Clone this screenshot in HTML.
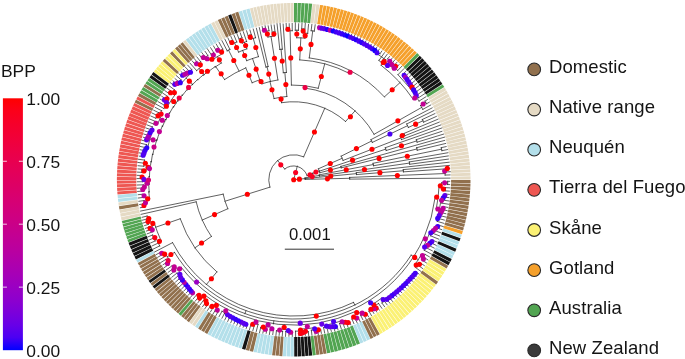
<!DOCTYPE html>
<html><head><meta charset="utf-8"><title>Phylogeny</title>
<style>
html,body{margin:0;padding:0;background:#fff}
body{width:685px;height:359px;overflow:hidden;position:relative;font-family:"Liberation Sans",sans-serif;color:#111}
svg{position:absolute;left:0;top:0}
text{font-family:"Liberation Sans",sans-serif;fill:#141414}
</style></head><body>
<svg width="685" height="359" viewBox="0 0 685 359">
<defs><linearGradient id="bpp" x1="0" y1="0" x2="0" y2="1"><stop offset="0.0" stop-color="#ff0000"/><stop offset="0.05" stop-color="#fb001a"/><stop offset="0.1" stop-color="#f6002a"/><stop offset="0.15" stop-color="#f20037"/><stop offset="0.2" stop-color="#ed0044"/><stop offset="0.25" stop-color="#e80050"/><stop offset="0.3" stop-color="#e3005b"/><stop offset="0.35" stop-color="#dd0066"/><stop offset="0.4" stop-color="#d70072"/><stop offset="0.45" stop-color="#d1007d"/><stop offset="0.5" stop-color="#ca0088"/><stop offset="0.55" stop-color="#c20094"/><stop offset="0.6" stop-color="#ba009f"/><stop offset="0.65" stop-color="#b000ab"/><stop offset="0.7" stop-color="#a600b7"/><stop offset="0.75" stop-color="#9a00c3"/><stop offset="0.8" stop-color="#8d00ce"/><stop offset="0.85" stop-color="#7c00da"/><stop offset="0.9" stop-color="#6800e7"/><stop offset="0.95" stop-color="#4b00f3"/><stop offset="1.0" stop-color="#0000ff"/></linearGradient></defs>
<rect width="685" height="359" fill="#fff"/>
<text x="1" y="76.6" font-size="17.4">BPP</text>
<rect x="2.9" y="98.3" width="20" height="251.9" fill="url(#bpp)"/>
<text x="26.3" y="104.8" font-size="17.4">1.00</text>
<path d="M2.9 161.25 h4 M18.9 161.25 h4" stroke="#fff" stroke-width="0.8"/>
<text x="26.3" y="167.75" font-size="17.4">0.75</text>
<path d="M2.9 224.2 h4 M18.9 224.2 h4" stroke="#fff" stroke-width="0.8"/>
<text x="26.3" y="230.7" font-size="17.4">0.50</text>
<path d="M2.9 287.15 h4 M18.9 287.15 h4" stroke="#fff" stroke-width="0.8"/>
<text x="26.3" y="293.65" font-size="17.4">0.25</text>
<text x="26.3" y="356.6" font-size="17.4">0.00</text>
<circle cx="534.2" cy="69.4" r="6.35" fill="#91704d" stroke="#2a2a2a" stroke-width="1.1"/>
<text x="549" y="72.9" font-size="18.5" letter-spacing="0.1">Domestic</text>
<circle cx="534.2" cy="109.55" r="6.35" fill="#e5dac4" stroke="#2a2a2a" stroke-width="1.1"/>
<text x="549" y="113.05" font-size="18.5" letter-spacing="0.1">Native range</text>
<circle cx="534.2" cy="149.7" r="6.35" fill="#b3dfea" stroke="#2a2a2a" stroke-width="1.1"/>
<text x="549" y="153.2" font-size="18.5" letter-spacing="0.1">Neuquén</text>
<circle cx="534.2" cy="189.85" r="6.35" fill="#ee5752" stroke="#2a2a2a" stroke-width="1.1"/>
<text x="549" y="193.35" font-size="18.5" letter-spacing="0.1">Tierra del Fuego</text>
<circle cx="534.2" cy="230" r="6.35" fill="#fbf174" stroke="#2a2a2a" stroke-width="1.1"/>
<text x="549" y="233.5" font-size="18.5" letter-spacing="0.1">Skåne</text>
<circle cx="534.2" cy="270.15" r="6.35" fill="#f5a02b" stroke="#2a2a2a" stroke-width="1.1"/>
<text x="549" y="273.65" font-size="18.5" letter-spacing="0.1">Gotland</text>
<circle cx="534.2" cy="310.3" r="6.35" fill="#52a552" stroke="#2a2a2a" stroke-width="1.1"/>
<text x="549" y="313.8" font-size="18.5" letter-spacing="0.1">Australia</text>
<circle cx="534.2" cy="350.45" r="6.35" fill="#3a3a3a" stroke="#2a2a2a" stroke-width="1.1"/>
<text x="549" y="353.95" font-size="18.5" letter-spacing="0.1">New Zealand</text>
<path d="M284.8 249.2H334" stroke="#333" stroke-width="1"/>
<text x="309.8" y="240.2" font-size="16.7" text-anchor="middle">0.001</text>
<g><path fill="#e5dac4" d="M451.1 179.48L470.5 179.45L470.47 176.35L451.07 176.71z"/>
<path fill="#e5dac4" d="M451.06 176.28L470.46 175.85L470.36 172.75L450.98 173.51z"/>
<path fill="#e5dac4" d="M450.96 173.07L470.34 172.26L470.19 169.15L450.82 170.31z"/>
<path fill="#e5dac4" d="M450.79 169.87L470.15 168.66L469.93 165.56L450.6 167.11z"/>
<path fill="#e5dac4" d="M450.56 166.68L469.89 165.07L469.61 161.98L450.31 163.92z"/>
<path fill="#e5dac4" d="M450.26 163.48L469.56 161.49L469.21 158.4L449.95 160.74z"/>
<path fill="#e5dac4" d="M449.9 160.3L469.15 157.91L468.74 154.83L449.53 157.56z"/>
<path fill="#e5dac4" d="M449.47 157.12L468.67 154.34L468.2 151.27L449.05 154.39z"/>
<path fill="#e5dac4" d="M448.98 153.96L468.12 150.78L467.58 147.72L448.5 151.23z"/>
<path fill="#e5dac4" d="M448.42 150.8L467.49 147.24L466.9 144.19L447.89 148.09z"/>
<path fill="#e5dac4" d="M447.8 147.66L466.8 143.71L466.14 140.67L447.22 144.95z"/>
<path fill="#e5dac4" d="M447.12 144.52L466.03 140.19L465.31 137.17L446.48 141.83z"/>
<path fill="#e5dac4" d="M446.37 141.41L465.19 136.69L464.41 133.68L445.67 138.73z"/>
<path fill="#e5dac4" d="M445.56 138.31L464.28 133.21L463.43 130.22L444.81 135.65z"/>
<path fill="#e5dac4" d="M444.69 135.22L463.3 129.74L462.39 126.77L443.88 132.58z"/>
<path fill="#e5dac4" d="M443.75 132.16L462.24 126.3L461.28 123.35L442.89 129.53z"/>
<path fill="#e5dac4" d="M442.75 129.11L461.12 122.88L460.1 119.95L441.84 126.5z"/>
<path fill="#e5dac4" d="M441.69 126.09L459.93 119.48L458.85 116.57L440.72 123.5z"/>
<path fill="#e5dac4" d="M440.57 123.09L458.67 116.11L457.53 113.22L439.55 120.52z"/>
<path fill="#e5dac4" d="M439.38 120.11L457.34 112.76L456.14 109.9L438.31 117.56z"/>
<path fill="#e5dac4" d="M438.14 117.16L455.94 109.45L454.68 106.61L437.02 114.63z"/>
<path fill="#e5dac4" d="M436.84 114.23L454.48 106.16L453.16 103.34L435.66 111.72z"/>
<path fill="#e5dac4" d="M435.47 111.33L452.95 102.9L451.57 100.11L434.25 108.85z"/>
<path fill="#e5dac4" d="M434.05 108.45L451.35 99.67L449.92 96.92L432.78 106z"/>
<path fill="#e5dac4" d="M432.57 105.61L449.69 96.48L448.2 93.75L431.25 103.18z"/>
<path fill="#e5dac4" d="M431.04 102.8L447.96 93.32L446.42 90.62L429.66 100.4z"/>
<path fill="#e5dac4" d="M429.44 100.02L446.17 90.2L444.58 87.53L428.02 97.65z"/>
<path fill="#52a552" d="M427.79 97.27L444.32 87.11L442.63 84.41L426.28 94.87z"/>
<path fill="#141414" d="M426.05 94.5L442.36 84L440.61 81.34L424.49 92.13z"/>
<path fill="#141414" d="M424.25 91.77L440.34 80.93L438.53 78.3L422.64 89.43z"/>
<path fill="#141414" d="M422.39 89.07L438.25 77.9L436.39 75.31L420.74 86.77z"/>
<path fill="#141414" d="M420.48 86.41L436.1 74.92L434.19 72.37L418.78 84.15z"/>
<path fill="#141414" d="M418.51 83.8L433.89 71.98L431.93 69.47L416.76 81.57z"/>
<path fill="#141414" d="M416.49 81.22L431.62 69.08L429.61 66.62L414.7 79.03z"/>
<path fill="#141414" d="M414.41 78.69L429.29 66.24L427.23 63.82L412.58 76.53z"/>
<path fill="#141414" d="M412.29 76.2L426.9 63.45L424.79 61.07L410.4 74.08z"/>
<path fill="#141414" d="M410.11 73.76L424.46 60.7L422.29 58.36L408.18 71.68z"/>
<path fill="#141414" d="M407.88 71.36L421.95 58.01L419.74 55.72L405.91 69.32z"/>
<path fill="#52a552" d="M405.6 69.01L419.39 55.37L417.14 53.12L403.59 67.01z"/>
<path fill="#f5a02b" d="M403.28 66.71L416.78 52.78L414.57 50.67L401.3 64.83z"/>
<path fill="#f5a02b" d="M400.98 64.53L414.21 50.33L411.95 48.26L398.97 62.69z"/>
<path fill="#f5a02b" d="M398.65 62.39L411.58 47.93L409.28 45.91L396.6 60.59z"/>
<path fill="#f5a02b" d="M396.27 60.31L408.91 45.59L406.57 43.62L394.19 58.55z"/>
<path fill="#f5a02b" d="M393.85 58.27L406.19 43.3L403.81 41.38L391.73 56.55z"/>
<path fill="#f5a02b" d="M391.39 56.28L403.43 41.07L401.01 39.19L389.24 54.61z"/>
<path fill="#f5a02b" d="M388.89 54.34L400.62 38.89L398.17 37.06L386.7 52.71z"/>
<path fill="#f5a02b" d="M386.35 52.46L397.77 36.77L395.28 34.99L384.13 50.87z"/>
<path fill="#f5a02b" d="M383.77 50.62L394.87 34.71L392.35 32.98L381.52 49.08z"/>
<path fill="#f5a02b" d="M381.16 48.84L391.94 32.71L389.38 31.03L378.88 47.34z"/>
<path fill="#f5a02b" d="M378.51 47.1L388.96 30.76L386.37 29.13L376.2 45.66z"/>
<path fill="#f5a02b" d="M375.83 45.43L385.95 28.88L383.33 27.3L373.49 44.02z"/>
<path fill="#f5a02b" d="M373.11 43.8L382.9 27.05L380.25 25.53L370.75 42.45z"/>
<path fill="#f5a02b" d="M370.37 42.23L379.82 25.29L377.13 23.82L367.98 40.93z"/>
<path fill="#f5a02b" d="M367.59 40.72L376.7 23.59L373.98 22.18L365.17 39.46z"/>
<path fill="#f5a02b" d="M364.78 39.26L373.54 21.95L370.8 20.6L362.34 38.05z"/>
<path fill="#f5a02b" d="M361.94 37.86L370.35 20.38L367.59 19.08L359.48 36.7z"/>
<path fill="#f5a02b" d="M359.08 36.52L367.14 18.87L364.34 17.63L356.59 35.41z"/>
<path fill="#f5a02b" d="M356.19 35.24L363.89 17.43L361.07 16.24L353.68 34.18z"/>
<path fill="#f5a02b" d="M353.27 34.01L360.61 16.05L357.77 14.92L350.74 33z"/>
<path fill="#f5a02b" d="M350.33 32.84L357.31 14.74L354.45 13.66L347.78 31.88z"/>
<path fill="#f5a02b" d="M347.37 31.73L353.98 13.5L351.1 12.48L344.8 30.83z"/>
<path fill="#f5a02b" d="M344.38 30.68L350.63 12.32L347.73 11.36L341.8 29.83z"/>
<path fill="#f5a02b" d="M341.38 29.7L347.26 11.21L344.33 10.31L338.78 28.89z"/>
<path fill="#f5a02b" d="M338.35 28.77L343.86 10.16L340.92 9.32L335.74 28.02z"/>
<path fill="#f5a02b" d="M335.31 27.9L340.44 9.19L337.48 8.41L332.68 27.2z"/>
<path fill="#f5a02b" d="M332.25 27.09L337 8.29L334.03 7.56L329.61 26.45z"/>
<path fill="#f5a02b" d="M329.18 26.35L333.55 7.45L330.56 6.79L326.52 25.76z"/>
<path fill="#f5a02b" d="M326.09 25.67L330.08 6.68L327.08 6.08L323.42 25.13z"/>
<path fill="#f5a02b" d="M322.99 25.05L326.6 5.99L323.59 5.44L320.31 24.56z"/>
<path fill="#f5a02b" d="M319.87 24.49L323.1 5.36L320.08 4.88L317.18 24.06z"/>
<path fill="#e5dac4" d="M316.75 24L319.59 4.81L316.37 4.36L313.88 23.6z"/>
<path fill="#e5dac4" d="M313.44 23.54L315.88 4.3L312.65 3.92L310.57 23.21z"/>
<path fill="#52a552" d="M310.13 23.16L312.15 3.87L308.92 3.56L307.25 22.88z"/>
<path fill="#52a552" d="M306.81 22.85L308.42 3.51L305.18 3.27L303.92 22.63z"/>
<path fill="#52a552" d="M303.48 22.6L304.69 3.24L301.44 3.07L300.59 22.45z"/>
<path fill="#52a552" d="M300.15 22.43L300.95 3.05L297.69 2.95L297.26 22.34z"/>
<path fill="#52a552" d="M296.82 22.33L297.2 2.93L293.95 2.9L293.92 22.3z"/>
<path fill="#e5dac4" d="M293.48 22.3L293.45 2.9L290.53 2.93L290.88 22.33z"/>
<path fill="#e5dac4" d="M290.44 22.33L290.04 2.94L287.11 3.02L287.84 22.41z"/>
<path fill="#e5dac4" d="M287.4 22.43L286.62 3.04L283.7 3.18L284.8 22.55z"/>
<path fill="#e5dac4" d="M284.36 22.58L283.21 3.21L280.29 3.41L281.76 22.75z"/>
<path fill="#e5dac4" d="M281.32 22.79L279.8 3.45L276.88 3.7L278.73 23.01z"/>
<path fill="#e5dac4" d="M278.29 23.06L276.39 3.75L273.48 4.06L275.7 23.33z"/>
<path fill="#e5dac4" d="M275.26 23.38L272.99 4.12L270.09 4.48L272.68 23.71z"/>
<path fill="#e5dac4" d="M272.25 23.77L269.6 4.55L266.71 4.97L269.67 24.15z"/>
<path fill="#e5dac4" d="M269.24 24.21L266.22 5.05L263.34 5.53L266.67 24.64z"/>
<path fill="#e5dac4" d="M266.23 24.71L262.85 5.61L259.97 6.15L263.67 25.19z"/>
<path fill="#e5dac4" d="M263.24 25.27L259.49 6.24L256.63 6.83L260.69 25.8z"/>
<path fill="#e5dac4" d="M260.26 25.89L256.14 6.94L253.29 7.58L257.72 26.47z"/>
<path fill="#e5dac4" d="M257.3 26.57L252.81 7.69L249.97 8.39L254.77 27.19z"/>
<path fill="#b3dfea" d="M254.34 27.3L249.49 8.52L246.19 9.4L251.41 28.09z"/>
<path fill="#b3dfea" d="M250.98 28.21L245.72 9.54L242.44 10.49L248.07 29.06z"/>
<path fill="#b3dfea" d="M247.65 29.19L241.97 10.64L238.71 11.67L244.75 30.11z"/>
<path fill="#91704d" d="M244.33 30.24L238.24 11.82L235.16 12.87L241.58 31.18z"/>
<path fill="#91704d" d="M241.17 31.33L234.69 13.04L231.63 14.15L238.44 32.32z"/>
<path fill="#141414" d="M238.03 32.47L231.17 14.33L228.13 15.51L235.32 33.53z"/>
<path fill="#91704d" d="M234.92 33.69L227.67 15.69L224.66 16.94L232.23 34.8z"/>
<path fill="#91704d" d="M231.83 34.97L224.2 17.13L221.22 18.44L229.17 36.14z"/>
<path fill="#91704d" d="M228.77 36.32L220.77 18.64L217.81 20.02L226.14 37.54z"/>
<path fill="#e5dac4" d="M225.74 37.73L217.36 20.23L214.48 21.64L223.17 38.98z"/>
<path fill="#e5dac4" d="M222.78 39.18L214.04 21.86L211.19 23.33L220.24 40.49z"/>
<path fill="#b3dfea" d="M219.85 40.7L210.75 23.57L207.86 25.13L217.28 42.09z"/>
<path fill="#b3dfea" d="M216.9 42.31L207.43 25.37L204.58 27L214.36 43.76z"/>
<path fill="#b3dfea" d="M213.98 43.98L204.15 27.25L201.34 28.95L211.47 45.49z"/>
<path fill="#b3dfea" d="M211.1 45.72L200.91 29.2L198.13 30.95L208.62 47.28z"/>
<path fill="#b3dfea" d="M208.25 47.51L197.72 31.22L194.98 33.03L205.81 49.13z"/>
<path fill="#b3dfea" d="M205.44 49.37L194.57 33.31L191.86 35.18L203.04 51.03z"/>
<path fill="#b3dfea" d="M202.68 51.29L191.46 35.46L188.8 37.39L200.31 53z"/>
<path fill="#b3dfea" d="M199.95 53.26L188.4 37.68L185.78 39.66L197.62 55.03z"/>
<path fill="#e5dac4" d="M197.27 55.3L185.39 39.96L183.03 41.82L195.18 56.95z"/>
<path fill="#91704d" d="M194.84 57.22L182.65 42.13L180.34 44.03L192.77 58.92z"/>
<path fill="#91704d" d="M192.44 59.2L179.96 44.35L177.68 46.29L190.41 60.93z"/>
<path fill="#91704d" d="M190.08 61.22L177.31 46.62L175.07 48.61L188.09 62.99z"/>
<path fill="#fbf174" d="M187.76 63.29L174.7 48.94L172.51 50.97L185.8 65.1z"/>
<path fill="#91704d" d="M185.48 65.4L172.15 51.31L169.99 53.39L183.56 67.25z"/>
<path fill="#fbf174" d="M183.25 67.56L169.64 53.74L167.52 55.86L181.37 69.45z"/>
<path fill="#fbf174" d="M181.06 69.76L167.18 56.21L165.1 58.37L179.21 71.68z"/>
<path fill="#91704d" d="M178.91 72L164.76 58.73L162.73 60.93L177.1 73.96z"/>
<path fill="#fbf174" d="M176.81 74.29L162.4 61.3L160.41 63.54L175.04 76.29z"/>
<path fill="#fbf174" d="M174.75 76.62L160.09 63.91L158.15 66.19L173.02 78.65z"/>
<path fill="#fbf174" d="M172.74 78.99L157.83 66.57L155.93 68.89L171.05 81.05z"/>
<path fill="#fbf174" d="M170.78 81.39L155.62 69.28L153.77 71.63L169.13 83.49z"/>
<path fill="#141414" d="M168.86 83.84L153.47 72.02L151.58 74.54L167.17 86.08z"/>
<path fill="#141414" d="M166.91 86.43L151.28 74.93L149.44 77.49L165.27 88.7z"/>
<path fill="#52a552" d="M165.02 89.06L149.16 77.89L147.37 80.48L163.42 91.37z"/>
<path fill="#52a552" d="M163.18 91.73L147.09 80.89L145.35 83.52L161.63 94.07z"/>
<path fill="#91704d" d="M161.39 94.44L145.08 83.93L143.4 86.59L159.89 96.81z"/>
<path fill="#52a552" d="M159.66 97.18L143.14 87.01L141.52 89.71L158.21 99.58z"/>
<path fill="#52a552" d="M157.99 99.96L141.26 90.14L139.69 92.86L156.59 102.39z"/>
<path fill="#91704d" d="M156.38 102.78L139.45 93.3L137.94 96.06L155.03 105.23z"/>
<path fill="#ee5752" d="M154.82 105.62L137.7 96.49L136.25 99.28L153.52 108.11z"/>
<path fill="#91704d" d="M153.32 108.5L136.02 99.72L134.62 102.54L152.08 111.01z"/>
<path fill="#ee5752" d="M151.89 111.41L134.41 102.99L133.07 105.84L150.69 113.94z"/>
<path fill="#ee5752" d="M150.51 114.34L132.86 106.29L131.58 109.16L149.37 116.9z"/>
<path fill="#ee5752" d="M149.19 117.31L131.38 109.62L130.16 112.52L148.11 119.89z"/>
<path fill="#ee5752" d="M147.94 120.3L129.97 112.98L128.81 115.9L146.9 122.9z"/>
<path fill="#ee5752" d="M146.75 123.31L128.63 116.36L127.53 119.31L145.77 125.94z"/>
<path fill="#ee5752" d="M145.62 126.35L127.36 119.78L126.32 122.75L144.69 129z"/>
<path fill="#ee5752" d="M144.55 129.41L126.17 123.22L125.19 126.21L143.68 132.08z"/>
<path fill="#ee5752" d="M143.54 132.5L125.04 126.68L124.12 129.69L142.73 135.18z"/>
<path fill="#ee5752" d="M142.6 135.6L123.98 130.17L123.13 133.2L141.84 138.3z"/>
<path fill="#ee5752" d="M141.73 138.72L123 133.67L122.2 136.72L141.02 141.44z"/>
<path fill="#ee5752" d="M140.92 141.86L122.08 137.2L121.35 140.26L140.27 144.59z"/>
<path fill="#ee5752" d="M140.17 145.02L121.24 140.75L120.58 143.82L139.57 147.76z"/>
<path fill="#ee5752" d="M139.49 148.19L120.48 144.31L119.88 147.4L138.95 150.94z"/>
<path fill="#ee5752" d="M138.87 151.37L119.79 147.88L119.25 150.99L138.39 154.14z"/>
<path fill="#ee5752" d="M138.32 154.57L119.17 151.47L118.69 154.59L137.9 157.34z"/>
<path fill="#ee5752" d="M137.83 157.78L118.62 155.08L118.21 158.2L137.47 160.56z"/>
<path fill="#ee5752" d="M137.42 160.99L118.15 158.69L117.81 161.82L137.11 163.78z"/>
<path fill="#ee5752" d="M137.06 164.22L117.76 162.31L117.48 165.45L136.81 167.01z"/>
<path fill="#ee5752" d="M136.78 167.45L117.44 165.94L117.22 169.08L136.58 170.24z"/>
<path fill="#ee5752" d="M136.56 170.68L117.19 169.57L117.04 172.72L136.42 173.48z"/>
<path fill="#ee5752" d="M136.41 173.92L117.02 173.21L116.93 176.36L136.33 176.73z"/>
<path fill="#ee5752" d="M136.32 177.17L116.92 176.85L116.9 180L136.3 179.97z"/>
<path fill="#ee5752" d="M136.3 180.41L116.9 180.5L116.94 183.64L136.34 183.21z"/>
<path fill="#ee5752" d="M136.35 183.65L116.96 184.14L117.06 187.29L136.44 186.45z"/>
<path fill="#ee5752" d="M136.46 186.89L117.08 187.78L117.26 190.92L136.62 189.69z"/>
<path fill="#ee5752" d="M136.65 190.13L117.29 191.42L117.53 194.56L136.86 192.93z"/>
<path fill="#b3dfea" d="M136.89 193.36L117.57 195.05L117.88 198.29L137.17 196.25z"/>
<path fill="#b3dfea" d="M137.22 196.68L117.93 198.78L118.31 202.01L137.56 199.56z"/>
<path fill="#e5dac4" d="M137.61 200L118.38 202.5L118.83 205.72L138.01 202.86z"/>
<path fill="#91704d" d="M138.08 203.3L118.9 206.21L119.42 209.42L138.54 206.16z"/>
<path fill="#e5dac4" d="M138.61 206.59L119.5 209.91L120.08 213.11L139.14 209.44z"/>
<path fill="#e5dac4" d="M139.22 209.87L120.18 213.59L120.83 216.78L139.8 212.71z"/>
<path fill="#e5dac4" d="M139.89 213.14L120.94 217.26L121.66 220.43L140.53 215.96z"/>
<path fill="#52a552" d="M140.64 216.39L121.77 220.91L122.44 223.6L141.23 218.78z"/>
<path fill="#52a552" d="M141.34 219.21L122.56 224.08L123.28 226.75L141.98 221.59z"/>
<path fill="#52a552" d="M142.09 222.01L123.41 227.23L124.17 229.89L142.78 224.38z"/>
<path fill="#52a552" d="M142.9 224.8L124.31 230.36L125.13 233.01L143.63 227.16z"/>
<path fill="#52a552" d="M143.76 227.58L125.28 233.48L126.14 236.11L144.53 229.92z"/>
<path fill="#52a552" d="M144.67 230.34L126.3 236.58L127.21 239.19L145.48 232.66z"/>
<path fill="#52a552" d="M145.63 233.08L127.38 239.66L128.34 242.25L146.48 235.39z"/>
<path fill="#141414" d="M146.64 235.8L128.51 242.71L129.7 245.76L147.7 238.51z"/>
<path fill="#141414" d="M147.86 238.92L129.89 246.22L131.15 249.24L148.98 241.61z"/>
<path fill="#141414" d="M149.16 242.01L131.34 249.69L132.67 252.68L150.34 244.67z"/>
<path fill="#141414" d="M150.52 245.07L132.87 253.13L134.26 256.09L151.75 247.71z"/>
<path fill="#141414" d="M151.94 248.11L134.47 256.54L135.92 259.47L153.23 250.72z"/>
<path fill="#b3dfea" d="M153.43 251.11L136.14 259.91L137.51 262.54L154.65 253.45z"/>
<path fill="#91704d" d="M154.85 253.84L137.74 262.97L139.15 265.57L156.11 256.15z"/>
<path fill="#91704d" d="M156.33 256.53L139.4 266L140.86 268.57L157.63 258.82z"/>
<path fill="#91704d" d="M157.85 259.2L141.11 269L142.63 271.54L159.2 261.47z"/>
<path fill="#91704d" d="M159.43 261.84L142.88 271.96L144.45 274.48L160.83 264.08z"/>
<path fill="#91704d" d="M161.06 264.45L144.71 274.89L146.33 277.37L162.5 266.66z"/>
<path fill="#91704d" d="M162.74 267.02L146.6 277.78L148.27 280.23L164.22 269.2z"/>
<path fill="#141414" d="M164.47 269.56L148.55 280.64L150.26 283.06L166 271.71z"/>
<path fill="#91704d" d="M166.25 272.07L150.55 283.46L152.3 285.84L167.82 274.19z"/>
<path fill="#141414" d="M168.08 274.54L152.6 286.23L154.4 288.58L169.69 276.63z"/>
<path fill="#91704d" d="M169.96 276.98L154.71 288.97L156.56 291.28L171.6 279.04z"/>
<path fill="#91704d" d="M171.88 279.38L156.87 291.66L158.76 293.94L173.57 281.4z"/>
<path fill="#91704d" d="M173.85 281.74L159.08 294.31L161.02 296.55L175.58 283.73z"/>
<path fill="#91704d" d="M175.87 284.06L161.35 296.92L163.33 299.12L177.63 286.02z"/>
<path fill="#91704d" d="M177.93 286.34L163.66 299.48L165.68 301.64L179.73 288.26z"/>
<path fill="#91704d" d="M180.03 288.58L166.03 302L168.09 304.12L181.87 290.47z"/>
<path fill="#91704d" d="M182.18 290.78L168.44 304.47L170.55 306.55L184.06 292.63z"/>
<path fill="#91704d" d="M184.37 292.94L170.9 306.89L173.05 308.93L186.29 294.75z"/>
<path fill="#91704d" d="M186.61 295.05L173.41 309.27L175.59 311.26L188.55 296.83z"/>
<path fill="#91704d" d="M188.88 297.12L175.96 311.59L178.19 313.55L190.86 298.86z"/>
<path fill="#52a552" d="M191.19 299.15L178.56 313.87L180.82 315.78L193.21 300.85z"/>
<path fill="#91704d" d="M193.55 301.13L181.2 316.09L183.5 317.96L195.59 302.79z"/>
<path fill="#91704d" d="M195.94 303.06L183.89 318.26L186.22 320.08L198.02 304.68z"/>
<path fill="#91704d" d="M198.37 304.94L186.62 320.38L188.99 322.15L200.48 306.52z"/>
<path fill="#e5dac4" d="M200.83 306.78L189.38 322.45L191.79 324.17L202.97 308.32z"/>
<path fill="#e5dac4" d="M203.33 308.57L192.19 324.46L194.63 326.14L205.5 310.07z"/>
<path fill="#b3dfea" d="M205.87 310.31L195.04 326.41L197.72 328.18L208.25 311.89z"/>
<path fill="#91704d" d="M208.62 312.12L198.13 328.45L200.85 330.16L211.04 313.65z"/>
<path fill="#91704d" d="M211.41 313.88L201.27 330.41L204.02 332.07L213.86 315.35z"/>
<path fill="#91704d" d="M214.24 315.57L204.45 332.32L207.23 333.91L216.72 316.99z"/>
<path fill="#b3dfea" d="M217.1 317.21L207.66 334.15L210.51 335.7L219.64 318.59z"/>
<path fill="#b3dfea" d="M220.02 318.79L210.94 335.94L213.82 337.43L222.58 320.12z"/>
<path fill="#b3dfea" d="M222.98 320.32L214.26 337.65L217.17 339.08L225.57 321.59z"/>
<path fill="#b3dfea" d="M225.96 321.78L217.61 339.29L220.55 340.66L228.58 323z"/>
<path fill="#b3dfea" d="M228.98 323.18L221 340.86L223.97 342.17L231.62 324.34z"/>
<path fill="#b3dfea" d="M232.02 324.51L224.42 342.36L227.41 343.6L234.69 325.62z"/>
<path fill="#b3dfea" d="M235.09 325.78L227.87 343.79L230.89 344.97L237.78 326.83z"/>
<path fill="#b3dfea" d="M238.19 326.99L231.35 345.14L234.39 346.26L240.9 327.98z"/>
<path fill="#b3dfea" d="M241.31 328.13L234.86 346.42L237.92 347.47L244.04 329.06z"/>
<path fill="#b3dfea" d="M244.46 329.2L238.39 347.63L241.48 348.61L247.21 330.08z"/>
<path fill="#141414" d="M247.63 330.21L241.95 348.76L245.32 349.75L250.63 331.09z"/>
<path fill="#91704d" d="M251.05 331.21L245.8 349.89L249.19 350.81L254.08 332.03z"/>
<path fill="#91704d" d="M254.5 332.14L249.67 350.93L253.09 351.77L257.54 332.89z"/>
<path fill="#b3dfea" d="M257.97 332.99L253.57 351.88L256.76 352.6L260.81 333.63z"/>
<path fill="#b3dfea" d="M261.24 333.72L257.24 352.7L260.45 353.35L264.1 334.29z"/>
<path fill="#b3dfea" d="M264.53 334.37L260.93 353.44L264.15 354.01L267.4 334.89z"/>
<path fill="#b3dfea" d="M267.83 334.96L264.64 354.1L267.87 354.6L270.71 335.41z"/>
<path fill="#b3dfea" d="M271.14 335.48L268.36 354.67L271.6 355.11L274.03 335.87z"/>
<path fill="#91704d" d="M274.46 335.92L272.09 355.17L275.18 355.53L277.21 336.23z"/>
<path fill="#91704d" d="M277.65 336.28L275.67 355.58L278.76 355.87L280.4 336.54z"/>
<path fill="#91704d" d="M280.84 336.57L279.25 355.91L282.35 356.14L283.6 336.78z"/>
<path fill="#b3dfea" d="M284.04 336.8L282.85 356.17L286.15 356.34L286.98 336.96z"/>
<path fill="#b3dfea" d="M287.42 336.97L286.65 356.36L289.96 356.46L290.37 337.06z"/>
<path fill="#b3dfea" d="M290.81 337.07L290.45 356.47L293.76 356.5L293.75 337.1z"/>
<path fill="#141414" d="M294.19 337.1L294.26 356.5L297.46 356.46L297.05 337.06z"/>
<path fill="#141414" d="M297.49 337.05L297.96 356.45L301.17 356.34L300.35 336.96z"/>
<path fill="#141414" d="M300.79 336.94L301.66 356.32L304.86 356.15L303.64 336.79z"/>
<path fill="#141414" d="M304.08 336.76L305.36 356.12L308.56 355.87L306.93 336.54z"/>
<path fill="#141414" d="M307.36 336.51L309.05 355.83L312.24 355.53L310.21 336.23z"/>
<path fill="#52a552" d="M310.64 336.19L312.73 355.47L315.84 355.11L313.41 335.86z"/>
<path fill="#91704d" d="M313.85 335.8L316.33 355.05L319.44 354.62L316.61 335.42z"/>
<path fill="#91704d" d="M317.05 335.36L319.92 354.54L323.02 354.05L319.8 334.92z"/>
<path fill="#91704d" d="M320.23 334.85L323.5 353.97L326.59 353.41L322.98 334.35z"/>
<path fill="#52a552" d="M323.41 334.27L327.07 353.32L330.39 352.65L326.36 333.67z"/>
<path fill="#52a552" d="M326.79 333.58L330.87 352.55L334.17 351.81L329.73 332.92z"/>
<path fill="#52a552" d="M330.15 332.82L334.65 351.69L337.93 350.88L333.07 332.1z"/>
<path fill="#52a552" d="M333.5 331.99L338.41 350.75L341.67 349.87L336.4 331.2z"/>
<path fill="#52a552" d="M336.83 331.08L342.14 349.73L345.38 348.78L339.71 330.22z"/>
<path fill="#52a552" d="M340.13 330.1L345.86 348.63L349.08 347.6L343 329.18z"/>
<path fill="#52a552" d="M343.42 329.04L349.55 347.45L352.74 346.35L346.26 328.06z"/>
<path fill="#52a552" d="M346.68 327.92L353.21 346.18L356.38 345.02L349.5 326.88z"/>
<path fill="#52a552" d="M349.91 326.72L356.84 344.84L359.99 343.6L352.71 325.62z"/>
<path fill="#b3dfea" d="M353.12 325.45L360.45 343.42L363.41 342.18L355.76 324.35z"/>
<path fill="#b3dfea" d="M356.16 324.18L363.86 341.98L366.79 340.68L358.77 323.02z"/>
<path fill="#b3dfea" d="M359.17 322.84L367.24 340.48L370.15 339.12L361.76 321.62z"/>
<path fill="#91704d" d="M362.16 321.43L370.59 338.9L373.38 337.53L364.64 320.21z"/>
<path fill="#91704d" d="M365.03 320.01L373.82 337.3L376.58 335.87L367.48 318.74z"/>
<path fill="#91704d" d="M367.87 318.53L377.01 335.64L379.74 334.15L370.3 317.21z"/>
<path fill="#fbf174" d="M370.68 316.99L380.17 333.91L382.85 332.38L373.07 315.62z"/>
<path fill="#fbf174" d="M373.45 315.4L383.28 332.13L385.93 330.54L375.81 313.99z"/>
<path fill="#fbf174" d="M376.18 313.76L386.35 330.28L388.97 328.64L378.52 312.29z"/>
<path fill="#fbf174" d="M378.89 312.06L389.39 328.37L391.97 326.67L381.19 310.55z"/>
<path fill="#fbf174" d="M381.55 310.3L392.38 326.4L394.93 324.65L383.82 308.75z"/>
<path fill="#fbf174" d="M384.18 308.49L395.33 324.37L397.85 322.57L386.42 306.89z"/>
<path fill="#fbf174" d="M386.78 306.63L398.25 322.28L400.72 320.43L388.98 304.99z"/>
<path fill="#fbf174" d="M389.33 304.72L401.12 320.13L403.56 318.23L391.5 303.03z"/>
<path fill="#fbf174" d="M391.85 302.75L403.94 317.92L406.34 315.97L393.98 301.02z"/>
<path fill="#fbf174" d="M394.32 300.74L406.72 315.66L409.08 313.66L396.42 298.96z"/>
<path fill="#fbf174" d="M396.75 298.67L409.46 313.34L411.77 311.29L398.82 296.85z"/>
<path fill="#fbf174" d="M399.15 296.56L412.14 310.96L414.42 308.87L401.17 294.7z"/>
<path fill="#fbf174" d="M401.49 294.4L414.78 308.53L417.01 306.4L403.48 292.49z"/>
<path fill="#fbf174" d="M403.8 292.19L417.37 306.05L419.56 303.87L405.75 290.24z"/>
<path fill="#fbf174" d="M406.06 289.93L419.9 303.52L422.05 301.29L407.97 287.95z"/>
<path fill="#fbf174" d="M408.27 287.63L422.39 300.93L424.49 298.66L410.14 285.61z"/>
<path fill="#fbf174" d="M410.43 285.29L424.82 298.3L426.87 295.99L412.26 283.23z"/>
<path fill="#fbf174" d="M412.55 282.9L427.2 295.62L429.2 293.26L414.34 280.8z"/>
<path fill="#fbf174" d="M414.62 280.47L429.52 292.88L431.48 290.49L416.36 278.34z"/>
<path fill="#fbf174" d="M416.64 277.99L431.79 290.11L433.7 287.68L418.34 275.83z"/>
<path fill="#fbf174" d="M418.6 275.48L434 287.28L435.86 284.82L420.26 273.28z"/>
<path fill="#91704d" d="M420.52 272.93L436.15 284.42L438.09 281.73L422.24 270.54z"/>
<path fill="#fbf174" d="M422.5 270.18L438.37 281.33L440.25 278.6L424.17 267.75z"/>
<path fill="#fbf174" d="M424.42 267.38L440.53 278.19L442.35 275.42L426.03 264.92z"/>
<path fill="#fbf174" d="M426.27 264.55L442.61 275.01L444.37 272.2L427.84 262.05z"/>
<path fill="#fbf174" d="M428.07 261.68L444.63 271.78L446.33 268.94L429.58 259.14z"/>
<path fill="#91704d" d="M429.8 258.76L446.58 268.51L448.21 265.63L431.26 256.2z"/>
<path fill="#141414" d="M431.47 255.82L448.45 265.2L450.01 262.32L432.86 253.26z"/>
<path fill="#141414" d="M433.06 252.87L450.24 261.88L451.73 258.97L434.39 250.28z"/>
<path fill="#b3dfea" d="M434.59 249.88L451.95 258.53L453.38 255.59L435.86 247.26z"/>
<path fill="#b3dfea" d="M436.05 246.87L453.59 255.15L454.96 252.17L437.27 244.22z"/>
<path fill="#141414" d="M437.45 243.82L455.16 251.72L456.47 248.72L438.61 241.15z"/>
<path fill="#b3dfea" d="M438.78 240.75L456.66 248.27L457.9 245.24L439.88 238.05z"/>
<path fill="#b3dfea" d="M440.05 237.64L458.08 244.78L459.26 241.73L441.09 234.93z"/>
<path fill="#141414" d="M441.25 234.51L459.43 241.27L460.54 238.19L442.24 231.77z"/>
<path fill="#b3dfea" d="M442.38 231.36L460.71 237.73L461.75 234.63L443.31 228.6z"/>
<path fill="#f5a02b" d="M443.45 228.18L461.9 234.16L462.88 231.04L444.32 225.4z"/>
<path fill="#91704d" d="M444.45 224.98L463.03 230.56L463.92 227.48L445.24 222.24z"/>
<path fill="#91704d" d="M445.36 221.82L464.05 227.01L464.88 223.91L446.1 219.06z"/>
<path fill="#91704d" d="M446.21 218.63L465.01 223.43L465.77 220.31L446.89 215.86z"/>
<path fill="#91704d" d="M446.99 215.43L465.88 219.83L466.59 216.7L447.61 212.64z"/>
<path fill="#91704d" d="M447.71 212.21L466.69 216.22L467.32 213.07L448.27 209.41z"/>
<path fill="#91704d" d="M448.35 208.98L467.41 212.59L467.98 209.43L448.86 206.17z"/>
<path fill="#91704d" d="M448.93 205.73L468.07 208.94L468.57 205.77L449.38 202.91z"/>
<path fill="#91704d" d="M449.44 202.48L468.64 205.28L469.07 202.1L449.83 199.65z"/>
<path fill="#91704d" d="M449.89 199.21L469.14 201.61L469.51 198.43L450.21 196.37z"/>
<path fill="#91704d" d="M450.26 195.93L469.56 197.94L469.86 194.74L450.53 193.09z"/>
<path fill="#91704d" d="M450.57 192.65L469.9 194.25L470.14 191.05L450.78 189.8z"/>
<path fill="#91704d" d="M450.8 189.36L470.17 190.55L470.33 187.35L450.95 186.51z"/>
<path fill="#91704d" d="M450.97 186.07L470.36 186.86L470.46 183.65L451.06 183.22z"/>
<path fill="#91704d" d="M451.07 182.78L470.47 183.16L470.5 179.95L451.1 179.92z"/></g>
<path d="M349.7 179.13L450.04 178.11M445.13 175.07L450.09 174.92M445 171.99L450.32 171.72M445.13 175.07A151.5 151.5 0 0 0 445 171.99M349.65 177.42L445.07 173.53M349.7 179.13A56 56 0 0 0 349.65 177.42M305.2 179.41L349.68 178.27M403.42 171.87L449.67 168.57M403.24 169.63L449.45 165.39M403.42 171.87A110 110 0 0 0 403.24 169.63M356.49 174.57L403.34 170.75M356.31 172.66L449.21 162.21M356.49 174.57A63 63 0 0 0 356.31 172.66M305.15 178.59L356.41 173.62M409.68 164.26L448.42 159.1M409.34 161.9L448.29 155.91M409.68 164.26A117 117 0 0 0 409.34 161.9M319.44 176.01L409.51 163.08M373.49 165.75L447.89 152.74M441.88 150.67L447.47 149.58M441.26 147.66L446.14 146.6M441.88 150.67A151 151 0 0 0 441.26 147.66M373.03 163.32L441.58 149.17M373.49 165.75A81 81 0 0 0 373.03 163.32M319.24 174.83L373.27 164.53M319.44 176.01A26 26 0 0 0 319.24 174.83M305.04 177.81L319.34 175.42M305.2 179.41A11.5 11.5 0 0 0 305.04 177.81M293.7 179.7L305.15 178.6M417.23 150.23L445.64 143.46M416.61 147.72L444.67 140.42M417.23 150.23A127 127 0 0 0 416.61 147.72M341.24 167.85L416.93 148.98M340.86 166.4L444.53 137.16M341.24 167.85A49 49 0 0 0 340.86 166.4M319.8 172.77L341.06 167.12M417.12 142.16L443.52 134.13M416.33 139.66L441.94 131.3M417.12 142.16A129 129 0 0 0 416.33 139.66M386.21 150.53L416.73 140.91M385.28 147.72L441.81 127.98M386.21 150.53A97 97 0 0 0 385.28 147.72M319.32 171.19L385.75 149.12M401.48 139.58L440.71 124.98M404.82 135.74L439.28 122.11M403.9 133.49L438.04 119.17M404.82 135.74A119.5 119.5 0 0 0 403.9 133.49M400.2 136.31L404.37 134.61M401.48 139.58A115 115 0 0 0 400.2 136.31M343.08 160.45L400.85 137.94M423.51 122.13L436.36 116.43M422.31 119.5L434.91 113.6M423.51 122.13A142 142 0 0 0 422.31 119.5M408.36 127.45L422.91 120.81M406.71 123.97L434 110.51M408.36 127.45A126 126 0 0 0 406.71 123.97M372.31 142.42L407.54 125.7M370.93 139.64L432.14 107.89M372.31 142.42A87 87 0 0 0 370.93 139.64M341.17 156.14L371.63 141.02M343.08 160.45A53 53 0 0 0 341.17 156.14M318.4 168.79L342.18 158.28M319.8 172.77A27 27 0 0 0 318.4 168.79M312.61 173.18L319.22 170.9M312.83 173.85A20 20 0 0 0 312.61 173.18M307.09 175.61L312.83 173.85M293.7 179.7L297.32 166.18M307.09 175.61A14 14 0 0 0 284.7 168.98M284.7 168.98L277.63 160.55M303.67 156.77A25 25 0 0 0 269.84 187.18M303.67 156.77L324.8 108.17M269.84 187.18L224.99 201.23M345.59 121.46L355.1 110.79M422.78 109.37L430.77 105.02M426.53 103.78L429.26 102.22M424.96 101.09L427.47 99.58M426.53 103.78A153 153 0 0 0 424.96 101.09M420.58 105.46L425.75 102.43M422.78 109.37A147 147 0 0 0 420.58 105.46M374.07 134.31L421.69 107.41M374.07 134.31A92.3 92.3 0 0 0 304.95 88.09M304.95 88.09L305.24 85.71M318.21 88.23L324.76 63.79M349.48 73.45L350.78 70.97M419.08 101.06L425.99 96.73M418.5 97.76L424.64 93.73M417.07 94.98L422.54 91.22M415.58 92.22L420.69 88.54M414.02 89.48L419.16 85.63M412.4 86.78L416.85 83.3M410.73 84.1L414.84 80.74M408.99 81.45L413.06 77.98M407.19 78.83L410.96 75.49M405.34 76.25L408.14 73.65M403.16 73.95L406.17 71.05M405.34 76.25A152.2 152.2 0 0 0 403.16 73.95M403.99 75.34L404.25 75.09M407.19 78.83A151.84 151.84 0 0 0 403.99 75.34M405.34 77.32L405.61 77.08M408.99 81.45A151.47 151.47 0 0 0 405.34 77.32M406.91 79.61L407.18 79.37M410.73 84.1A151.11 151.11 0 0 0 406.91 79.61M408.56 82.07L408.84 81.84M412.4 86.78A150.75 150.75 0 0 0 408.56 82.07M410.23 84.63L410.51 84.4M414.02 89.48A150.39 150.39 0 0 0 410.23 84.63M411.86 87.26L412.15 87.04M415.58 92.22A150.03 150.03 0 0 0 411.86 87.26M413.46 89.94L413.75 89.72M417.07 94.98A149.66 149.66 0 0 0 413.46 89.94M415 92.65L415.29 92.44M418.5 97.76A149.3 149.3 0 0 0 415 92.65M415.7 95.92L416.78 95.19M397.98 74.68L404 68.61M419.08 101.06A148 148 0 0 0 397.98 74.68M413.08 99.18L416.4 96.94M397.76 70.52L401.68 66.4M397.01 66.85L399.02 64.65M394.72 64.79L396.78 62.46M397.01 66.85A153 153 0 0 0 394.72 64.79M395.22 66.54L395.87 65.81M392.39 62.79L394.85 59.87M390.02 60.83L392.32 57.99M387.61 58.91L389.44 56.57M392.39 62.79A153 153 0 0 0 387.61 58.91M389.41 61.58L390.02 60.83M395.22 66.54A152.03 152.03 0 0 0 389.41 61.58M391.57 64.94L392.35 64.02M397.76 70.52A150.83 150.83 0 0 0 391.57 64.94M393.65 68.85L394.7 67.69M382.93 60.05L387.15 54.4M393.65 68.85A149.26 149.26 0 0 0 382.93 60.05M386.64 66.46L388.4 64.32M378.9 60.53L384.52 52.68M386.64 66.46A146.5 146.5 0 0 0 378.9 60.53M385.56 59.86L382.82 63.43M379.94 53.8L381.83 51.04M377.43 52.03L379.36 49.1M374.89 50.31L376.85 47.2M372.31 48.64L374.39 45.17M369.7 47.02L371.24 44.34M367.06 45.45L368.52 42.77M364.38 43.94L365.9 41.02M361.67 42.48L363.04 39.7M358.93 41.07L360.39 37.97M356.16 39.72L357.44 36.85M353.36 38.42L354.72 35.21M350.54 37.18L351.67 34.34M347.69 35.99L348.86 32.9M344.82 34.87L345.75 32.24M341.92 33.8L342.73 31.34M339 32.78L339.73 30.42M336.06 31.83L336.64 29.8M333.1 30.93L333.77 28.42M330.12 30.1L330.59 28.15M327.12 29.32L327.54 27.45M324.11 28.61L324.52 26.56M321.08 27.95L321.41 26.14M318.02 27.43L318.3 25.68M321.08 27.95A154.2 154.2 0 0 0 318.02 27.43M319.54 27.76L319.55 27.68M324.11 28.61A154.12 154.12 0 0 0 319.54 27.76M321.81 28.24L321.83 28.16M327.12 29.32A154.05 154.05 0 0 0 321.81 28.24M324.46 28.83L324.47 28.76M330.12 30.1A153.97 153.97 0 0 0 324.46 28.83M327.28 29.51L327.29 29.44M333.1 30.93A153.9 153.9 0 0 0 327.28 29.51M330.18 30.27L330.2 30.19M336.06 31.83A153.82 153.82 0 0 0 330.18 30.27M333.11 31.09L333.13 31.02M339 32.78A153.74 153.74 0 0 0 333.11 31.09M336.04 31.98L336.06 31.91M341.92 33.8A153.67 153.67 0 0 0 336.04 31.98M338.97 32.93L338.99 32.86M344.82 34.87A153.59 153.59 0 0 0 338.97 32.93M341.88 33.94L341.9 33.87M347.69 35.99A153.51 153.51 0 0 0 341.88 33.94M344.77 35.01L344.8 34.94M350.54 37.18A153.44 153.44 0 0 0 344.77 35.01M347.64 36.14L347.67 36.07M353.36 38.42A153.36 153.36 0 0 0 347.64 36.14M350.49 37.32L350.51 37.25M356.16 39.72A153.29 153.29 0 0 0 350.49 37.32M353.31 38.56L353.34 38.49M358.93 41.07A153.21 153.21 0 0 0 353.31 38.56M356.1 39.86L356.13 39.79M361.67 42.48A153.13 153.13 0 0 0 356.1 39.86M358.86 41.21L358.9 41.14M364.38 43.94A153.06 153.06 0 0 0 358.86 41.21M361.6 42.61L361.63 42.55M367.06 45.45A152.98 152.98 0 0 0 361.6 42.61M364.31 44.07L364.34 44.01M369.7 47.02A152.9 152.9 0 0 0 364.31 44.07M366.98 45.59L367.02 45.52M372.31 48.64A152.83 152.83 0 0 0 366.98 45.59M369.63 47.15L369.66 47.09M374.89 50.31A152.75 152.75 0 0 0 369.63 47.15M372.23 48.77L372.27 48.71M377.43 52.03A152.68 152.68 0 0 0 372.23 48.77M374.81 50.44L374.85 50.38M379.94 53.8A152.6 152.6 0 0 0 374.81 50.44M376.51 53.43L377.39 52.1M385.56 59.86A151 151 0 0 0 376.51 53.43M381.16 65.3L385.41 59.74M413.08 99.18A144 144 0 0 0 381.16 65.3M384.38 96.9L400.04 82.6M314.3 31.12L315.17 24.83M311.14 30.72L311.87 24.49M314.3 31.12A150 150 0 0 0 311.14 30.72M309.27 57.89L312.72 30.91M384.38 96.9A122.8 122.8 0 0 0 309.27 57.89M307.7 33.37L308.55 24.46M304.89 29.12L305.32 23.3M301.7 28.91L302 23.28M304.89 29.12A151 151 0 0 0 301.7 28.91M303.04 33L303.29 29.01M307.7 33.37A147 147 0 0 0 303.04 33M304.97 38.15L305.37 33.16M298.45 30.28L298.66 23.75M295.28 30.21L295.36 22.85M298.45 30.28A149.5 149.5 0 0 0 295.28 30.21M296.71 37.73L296.87 30.23M304.97 38.15A142 142 0 0 0 296.71 37.73M299.74 59.85L300.84 37.88M349.48 73.45A120 120 0 0 0 299.74 59.85M292.26 30.71L292.19 23.47M289.29 27.76L289.18 23.78M286.36 27.88L286.15 23.51M289.29 27.76A152 152 0 0 0 286.36 27.88M287.94 30.81L287.82 27.81M292.26 30.71A149 149 0 0 0 287.94 30.81M291.41 85.03L290.1 30.74M318.21 88.23A94.7 94.7 0 0 0 291.41 85.03M286.43 72.45L283.15 24.08M282.32 49.2L280.08 23.54M279.8 49.44L277.05 23.74M282.32 49.2A131 131 0 0 0 279.8 49.44M283.32 72.7L281.06 49.31M286.43 72.45A107.5 107.5 0 0 0 283.32 72.7M286.85 96.48L284.88 72.56M281.5 102.66L280.64 97.23M345.59 121.46A78 78 0 0 0 281.5 102.66M275.03 31.87L274.16 25M272.17 32.26L271.1 24.94M275.03 31.87A149 149 0 0 0 272.17 32.26M274.14 36.03L273.6 32.06M269 30.73L268.19 25.89M265.67 28.78L265.11 25.77M262.75 29.35L262.19 26.63M265.67 28.78A153.5 153.5 0 0 0 262.75 29.35M264.69 31.51L264.21 29.06M269 30.73A151 151 0 0 0 264.69 31.51M267.91 37.01L266.84 31.11M274.14 36.03A145 145 0 0 0 267.91 37.01M277.9 79.94L271.02 36.49M274.07 98.54L269.95 81.53M286.85 96.48A83.5 83.5 0 0 0 274.07 98.54M268.12 66.56L259.32 27.63M265.94 67.07L256.37 28.26M268.12 66.56A116 116 0 0 0 265.94 67.07M270.48 81.41L267.03 66.81M261.82 83.86L260.4 79.59M277.9 79.94A101 101 0 0 0 261.82 83.86M255.57 37.73L253.24 29.05M251.32 34.77L249.91 29.96M248.13 35.74L246.57 30.82M251.32 34.77A151 151 0 0 0 248.13 35.74M250.88 39.07L249.72 35.25M255.57 37.73A147 147 0 0 0 250.88 39.07M258.45 56.65L253.22 38.38M246.63 41.5L243.3 31.73M241.99 37.83L240.2 32.92M238.99 38.96L236.88 33.52M241.99 37.83A151 151 0 0 0 238.99 38.96M242.25 43.07L240.49 38.39M246.63 41.5A146 146 0 0 0 242.25 43.07M246.8 48.85L244.43 42.26M236.78 42L233.88 34.98M232.66 40.49L230.91 36.5M229.72 41.82L227.89 37.86M232.66 40.49A152 152 0 0 0 229.72 41.82M232.42 43.88L231.19 41.15M236.78 42A149 149 0 0 0 232.42 43.88M238.56 52.1L234.59 42.92M246.8 48.85A139 139 0 0 0 238.56 52.1M246.69 60.64L242.65 50.41M258.45 56.65A128 128 0 0 0 246.69 60.64M259.76 79.81L252.52 58.5M252.14 82.73L245.76 67.84M259.76 79.81A105.5 105.5 0 0 0 252.14 82.73M229.91 49.49L224.88 39.21M227.2 50.85L221.96 40.7M229.91 49.49A145 145 0 0 0 227.2 50.85M239.02 70.98L228.55 50.16M224.59 79.52L215.91 66.93M245.76 67.84A121.7 121.7 0 0 0 224.59 79.52M222.81 49.21L219.04 42.26M218.55 48.15L216.22 44.06M215.76 49.79L213.45 45.94M218.55 48.15A151.5 151.5 0 0 0 215.76 49.79M218.67 51.55L217.15 48.96M222.81 49.21A148.5 148.5 0 0 0 218.67 51.55M222.55 53.59L220.73 50.36M213.8 52.75L210.64 47.74M211.1 54.49L207.32 48.77M213.8 52.75A150 150 0 0 0 211.1 54.49M214.34 56.56L212.44 53.62M207.87 55.46L205.03 51.34M204.07 55.7L201.91 52.72M201.44 57.65L199.29 54.81M204.07 55.7A153 153 0 0 0 201.44 57.65M203.93 58.28L202.75 56.67M207.87 55.46A151 151 0 0 0 203.93 58.28M208.51 60.52L205.89 56.85M214.34 56.56A146.5 146.5 0 0 0 208.51 60.52M212.36 59.91L211.4 58.5M222.55 53.59A144.8 144.8 0 0 0 212.36 59.91M221.36 63.05L217.39 56.64M200.8 61.93L196.85 56.91M196.91 61.85L194.18 58.53M194.6 63.78L192.16 60.92M196.91 61.85A152.5 152.5 0 0 0 194.6 63.78M197.36 64.73L195.75 62.81M200.8 61.93A150 150 0 0 0 197.36 64.73M201.59 66.42L199.07 63.32M196.66 70.62L189.98 63.12M201.59 66.42A146 146 0 0 0 196.66 70.62M204.18 74.46L199.1 68.49M191.81 69.62L187.65 65.13M188.96 70.93L184.92 66.74M186.13 72.31L183.22 69.41M183.31 73.77L181.12 71.66M181.24 75.96L178.85 73.76M183.31 73.77A153 153 0 0 0 181.24 75.96M182.99 75.54L182.27 74.86M186.13 72.31A152 152 0 0 0 182.99 75.54M185.27 74.61L184.55 73.92M188.96 70.93A151 151 0 0 0 185.27 74.61M187.8 73.47L187.1 72.76M191.81 69.62A150 150 0 0 0 187.8 73.47M191.17 72.97L189.79 71.52M181.08 79.86L176.37 75.69M178.18 81.29L174.99 78.58M175.3 82.8L173 80.92M173.41 85.16L170.36 82.76M175.3 82.8A153 153 0 0 0 173.41 85.16M175.32 84.76L174.35 83.97M178.18 81.29A151.75 151.75 0 0 0 175.32 84.76M177.7 83.81L176.74 83.01M181.08 79.86A150.5 150.5 0 0 0 177.7 83.81M181.27 83.45L179.38 81.82M191.17 72.97A148 148 0 0 0 181.27 83.45M192.6 84.22L186.1 78.09M174.32 89.71L169 85.7M170.46 90.72L166.67 87.98M168.66 93.28L164.79 90.61M170.46 90.72A152 152 0 0 0 168.66 93.28M171.6 93.44L169.55 92M174.32 89.71A149.5 149.5 0 0 0 171.6 93.44M175.77 93.63L172.94 91.56M167.53 96.29L162.83 93.18M164.83 98.27L161.81 96.36M163.18 100.94L160.12 99.1M164.83 98.27A152.44 152.44 0 0 0 163.18 100.94M165.02 100.23L164 99.6M167.53 96.29A151.24 151.24 0 0 0 165.02 100.23M167.78 99.22L166.26 98.25M164.18 105.15L158.12 101.66M167.78 99.22A149.44 149.44 0 0 0 164.18 105.15M167.18 102.91L165.95 102.16M163.94 108.52L156.45 104.42M167.18 102.91A148 148 0 0 0 163.94 108.52M167.26 106.7L165.53 105.7M175.77 93.63A146 146 0 0 0 167.26 106.7M175.97 103.06L171.34 100.05M161.61 110.75L155.26 107.43M158.46 112.61L153.73 110.26M157.1 115.41L152.01 113.01M155.81 118.24L150.83 116.02M158.46 112.61A150.97 150.97 0 0 0 155.81 118.24M158.89 116.25L157.1 115.41M161.61 110.75A149 149 0 0 0 158.89 116.25M162.01 114.37L160.22 113.48M155 121.27L149.46 118.94M153.83 124.14L148.11 121.87M155 121.27A150.5 150.5 0 0 0 153.83 124.14M157.65 124.03L154.41 122.71M162.01 114.37A147 147 0 0 0 157.65 124.03M164.75 121.43L159.74 119.16M152.43 126.93L146.98 124.9M150.95 129.71L145.79 127.9M149.52 132.52L144.92 131.01M148.15 135.37L143.88 134.07M146.84 138.25L143.46 137.3M146.01 141.29L141.95 140.23M146.84 138.25A152.6 152.6 0 0 0 146.01 141.29M146.85 139.89L146.42 139.77M148.15 135.37A152.15 152.15 0 0 0 146.85 139.89M147.92 137.75L147.48 137.62M149.52 132.52A151.7 151.7 0 0 0 147.92 137.75M149.13 135.26L148.7 135.12M150.95 129.71A151.25 151.25 0 0 0 149.13 135.26M150.44 132.61L150.01 132.47M152.43 126.93A150.8 150.8 0 0 0 150.44 132.61M152.63 130.19L151.41 129.76M146.62 144.66L141.09 143.35M145.4 147.59L140.38 146.5M144.25 150.55L140.16 149.75M143.16 153.54L139.32 152.88M142.65 156.65L139.27 156.13M143.16 153.54A152.8 152.8 0 0 0 142.65 156.65M143.42 155.18L142.89 155.09M144.25 150.55A152.27 152.27 0 0 0 143.42 155.18M144.34 152.96L143.82 152.86M145.4 147.59A151.73 151.73 0 0 0 144.34 152.96M145.37 150.37L144.85 150.27M146.62 144.66A151.2 151.2 0 0 0 145.37 150.37M147.63 147.87L145.97 147.51M152.63 130.19A149.5 149.5 0 0 0 147.63 147.87M156.31 140.78L149.86 138.96M144.49 160.07L138.23 159.24M144.11 163.15L137.9 162.46M143.8 166.23L138.08 165.72M144.49 160.07A150.5 150.5 0 0 0 143.8 166.23M146.6 163.42L144.11 163.15M142.06 169.22L138.09 168.94M141.88 172.34L137.54 172.13M142.06 169.22A152 152 0 0 0 141.88 172.34M145.96 171.02L141.96 170.78M146.6 163.42A148 148 0 0 0 145.96 171.02M150.26 167.56L146.23 167.21M141.51 175.47L137.17 175.35M141.46 178.6L137.05 178.57M141.51 175.47A152.25 152.25 0 0 0 141.46 178.6M142.72 177.06L141.48 177.04M142.71 181.72L137.37 181.8M142.72 177.06A151 151 0 0 0 142.71 181.72M145.2 179.4L142.7 179.39M143.29 184.82L137.33 185.02M141.91 188L137.2 188.26M142.11 191.12L137.68 191.46M141.91 188A152.02 152.02 0 0 0 142.11 191.12M143.52 189.46L142 189.56M143.29 184.82A150.5 150.5 0 0 0 143.52 189.46M145.38 187.04L143.38 187.14M145.2 179.4A148.5 148.5 0 0 0 145.38 187.04M149.01 183.13L145.24 183.22M142.4 194.29L138.25 194.69M142.74 197.49L138.38 198.01M142.4 194.29A152 152 0 0 0 142.74 197.49M145.55 195.57L142.56 195.89M144.15 200.55L138.89 201.28M142.81 204L139.67 204.51M143.36 207.2L140.34 207.75M142.81 204A152.83 152.83 0 0 0 143.36 207.2M144.88 205.29L143.08 205.6M144.15 200.55A151 151 0 0 0 144.88 205.29M146.47 202.61L144.5 202.92M145.55 195.57A149 149 0 0 0 146.47 202.61M149.57 198.63L145.97 199.1M221.34 63.02A137.3 137.3 0 0 0 215.33 66.97M215.33 66.97L215.11 66.65M215.11 66.65A137.68 137.68 0 0 0 209.3 70.92M209.3 70.92L209.07 70.61M209.07 70.61A138.07 138.07 0 0 0 203.47 75.19M203.47 75.19L203.22 74.9M203.22 74.9A138.46 138.46 0 0 0 197.86 79.78M197.86 79.78L197.59 79.5M197.59 79.5A138.84 138.84 0 0 0 192.48 84.66M192.48 84.66L192.2 84.4M192.2 84.4A139.23 139.23 0 0 0 187.35 89.84M187.35 89.84L187.06 89.59M187.06 89.59A139.61 139.61 0 0 0 182.49 95.3M182.49 95.3L182.18 95.06M182.18 95.06A140 140 0 0 0 177.9 101.02M177.9 101.02L177.58 100.8M177.58 100.8A140.39 140.39 0 0 0 173.61 106.99M173.61 106.99L173.28 106.79M173.28 106.79A140.77 140.77 0 0 0 169.63 113.19M169.63 113.19L169.29 113M169.29 113A141.16 141.16 0 0 0 165.97 119.61M165.97 119.61L165.62 119.44M165.62 119.44A141.55 141.55 0 0 0 162.64 126.23M162.64 126.23L162.28 126.08M162.28 126.08A141.93 141.93 0 0 0 159.66 133.03M159.66 133.03L159.29 132.91M159.29 132.91A142.32 142.32 0 0 0 157.03 140.01M157.03 140.01L156.66 139.9M156.66 139.9A142.71 142.71 0 0 0 154.76 147.12M154.76 147.12L154.39 147.04M154.39 147.04A143.09 143.09 0 0 0 152.87 154.37M152.87 154.37L152.49 154.3M152.49 154.3A143.48 143.48 0 0 0 151.35 161.73M151.35 161.73L150.97 161.68M150.97 161.68A143.86 143.86 0 0 0 150.22 169.18M150.22 169.18L149.84 169.15M149.84 169.15A144.25 144.25 0 0 0 149.48 176.69M149.48 176.69L149.09 176.68M149.09 176.68A144.64 144.64 0 0 0 149.13 184.26M149.13 184.26L148.75 184.27M148.75 184.27A145.02 145.02 0 0 0 149.19 191.85M149.19 191.85L148.82 191.88M148.82 191.88A145.39 145.39 0 0 0 149.55 198.63M223.17 194.15L140.6 211.07M196.18 201.84L141.14 214.34M227.82 208.76L202.2 220.05M223.17 194.15A72 72 0 0 0 227.82 208.76M211.39 236.48L194.92 247.84M196.18 201.84A100 100 0 0 0 211.39 236.48M147.14 216.05L142.13 217.29M146.68 219.06L142.42 220.19M147.43 221.76L142.93 223.05M148.23 224.45L144.66 225.55M146.68 219.06A152.2 152.2 0 0 0 148.23 224.45M148.58 221.43L147.43 221.76M147.14 216.05A151 151 0 0 0 148.58 221.43M149.77 218.23L147.84 218.75M149.04 227.14L145.42 228.33M149.94 229.8L146.47 231.01M149.04 227.14A152.24 152.24 0 0 0 149.94 229.8M150.66 228.08L149.48 228.48M152.05 232.02L147.19 233.81M150.66 228.08A151 151 0 0 0 152.05 232.02M153.23 229.38L151.34 230.05M149.77 218.23A149 149 0 0 0 153.23 229.38M154.25 222.95L151.39 223.84M152.65 235L147.88 236.87M153.86 237.99L149.58 239.78M155.14 240.96L150.66 242.94M152.65 235A151.5 151.5 0 0 0 155.14 240.96M155.71 237.22L153.86 237.99M158.28 243.05L152.03 245.97M159.66 245.92L153.4 249.01M155.71 237.22A149.5 149.5 0 0 0 159.66 245.92M161.02 240.62L157.84 242.08M154.25 222.95A146 146 0 0 0 161.02 240.62M180.24 218.77L155.65 227.23M216.89 271.89L206.33 284.57M180.24 218.77A120 120 0 0 0 216.89 271.89M172.58 242.64L154.61 251.98M160.22 252.41L156.25 254.58M161.67 255.01L157.65 257.29M160.22 252.41A152 152 0 0 0 161.67 255.01M162.68 252.74L160.94 253.71M164.88 256.55L159.21 259.93M162.68 252.74A150 150 0 0 0 164.88 256.55M165.5 253.65L163.77 254.65M165.98 259.31L160.65 262.63M165.88 262.88L163.01 264.75M167.53 265.36L164.2 267.63M165.88 262.88A152.5 152.5 0 0 0 167.53 265.36M168.37 263.02L166.7 264.13M165.98 259.31A150.5 150.5 0 0 0 168.37 263.02M169.26 259.82L167.16 261.17M165.5 253.65A148 148 0 0 0 169.26 259.82M174.52 252.38L167.34 256.76M172.09 265.79L166.3 269.89M172.18 269.33L168.16 272.3M173.96 271.69L169.37 275.22M172.18 269.33A151 151 0 0 0 173.96 271.69M174.66 269.31L173.06 270.52M172.09 265.79A149 149 0 0 0 174.66 269.31M175.14 266.26L173.36 267.56M177.1 272.95L171.85 277.16M178.71 275.41L173.81 279.49M180.36 277.84L175.55 282.01M182.07 280.25L177.54 284.33M183.83 282.62L179.23 286.92M185.63 284.97L181.64 288.86M187.49 287.28L183.68 291.14M189.4 289.56L186.22 292.91M191.35 291.81L188.16 295.3M193.56 293.79L190.33 297.47M191.35 291.81A151.8 151.8 0 0 0 193.56 293.79M192.66 292.57L192.45 292.8M189.4 289.56A151.49 151.49 0 0 0 192.66 292.57M191.23 290.85L191.02 291.08M187.49 287.28A151.18 151.18 0 0 0 191.23 290.85M189.56 288.85L189.34 289.08M185.63 284.97A150.86 150.86 0 0 0 189.56 288.85M187.8 286.71L187.58 286.93M183.83 282.62A150.55 150.55 0 0 0 187.8 286.71M186.02 284.46L185.79 284.68M182.07 280.25A150.24 150.24 0 0 0 186.02 284.46M184.25 282.16L184.02 282.38M180.36 277.84A149.93 149.93 0 0 0 184.25 282.16M182.52 279.81L182.29 280.02M178.71 275.41A149.61 149.61 0 0 0 182.52 279.81M180.83 277.43L180.59 277.63M177.1 272.95A149.3 149.3 0 0 0 180.83 277.43M180.87 273.61L178.94 275.21M175.14 266.26A146.8 146.8 0 0 0 180.87 273.61M181.26 267.4L177.94 269.98M196.65 294.73L193.1 298.93M197.97 297.77L195.15 301.24M200.29 299.61L197.68 302.97M197.97 297.77A152 152 0 0 0 200.29 299.61M200.06 297.52L199.13 298.69M196.65 294.73A150.5 150.5 0 0 0 200.06 297.52M199.61 294.59L198.34 296.14M203.55 300.21L199.82 305.19M204.76 303.58L202.56 306.63M207.19 305.29L204.86 308.67M204.76 303.58A152.5 152.5 0 0 0 207.19 305.29M207.12 302.8L205.97 304.44M203.55 300.21A150.5 150.5 0 0 0 207.12 302.8M206.5 299.9L205.33 301.52M199.61 294.59A148.5 148.5 0 0 0 206.5 299.9M204.79 295L203.02 297.3M210.03 306.6L207.53 310.38M212.7 308.32L210.44 311.91M210.03 306.6A152 152 0 0 0 212.7 308.32M212.71 305.36L211.36 307.47M215.16 310.42L212.89 314.19M217.91 312.03L215.81 315.71M215.16 310.42A152.5 152.5 0 0 0 217.91 312.03M218.05 308.65L216.53 311.23M212.71 305.36A149.5 149.5 0 0 0 218.05 308.65M217.41 303.71L215.36 307.03M222 311.23L219.05 316.65M224.43 313.42L221.95 318.22M227.15 315.09L224.76 319.96M229.92 316.7L227.72 321.42M232.72 318.25L230.76 322.72M235.56 319.74L233.85 323.88M238.44 321.18L236.84 325.26M241.35 322.55L239.84 326.68M244.3 323.87L243.15 327.22M247.35 324.88L246.23 328.41M244.3 323.87A152.4 152.4 0 0 0 247.35 324.88M245.9 324.14L245.82 324.38M241.35 322.55A152.14 152.14 0 0 0 245.9 324.14M243.71 323.12L243.62 323.36M238.44 321.18A151.89 151.89 0 0 0 243.71 323.12M241.15 321.93L241.06 322.17M235.56 319.74A151.63 151.63 0 0 0 241.15 321.93M238.44 320.63L238.35 320.86M232.72 318.25A151.37 151.37 0 0 0 238.44 320.63M235.67 319.23L235.57 319.47M229.92 316.7A151.11 151.11 0 0 0 235.67 319.23M232.89 317.76L232.78 317.99M227.15 315.09A150.86 150.86 0 0 0 232.89 317.76M230.11 316.22L230.01 316.45M224.43 313.42A150.6 150.6 0 0 0 230.11 316.22M227.61 314.13L227.26 314.85M222 311.23A149.8 149.8 0 0 0 227.61 314.13M226.72 308.98L224.79 312.71M250.8 325L249.44 329.61M254.11 325.93L252.86 330.53M250.8 325A151.5 151.5 0 0 0 254.11 325.93M253.13 323.07L252.45 325.48M258.03 324.37L256.29 331.43M253.13 323.07A149 149 0 0 0 258.03 324.37M256.45 320.45L255.58 323.74M260.68 327.56L259.52 332.75M263.54 329.7L262.85 333.13M266.74 330.31L266.21 333.25M263.54 329.7A153 153 0 0 0 266.74 330.31M265.42 328.54L265.14 330.01M260.68 327.56A151.5 151.5 0 0 0 265.42 328.54M263.51 325.81L263.04 328.07M270.11 329.86L269.38 334.49M273.31 330.33L272.74 334.51M270.11 329.86A152 152 0 0 0 273.31 330.33M272.11 327.33L271.71 330.1M263.51 325.81A149.2 149.2 0 0 0 272.11 327.33M268.42 323.09L267.8 326.63M276.45 330.72L275.91 335.4M279.53 331.04L279.13 335.32M282.61 331.3L282.26 336.08M276.45 330.72A152 152 0 0 0 282.61 331.3M279.71 329.05L279.53 331.04M285.79 331.49L285.54 336.27M289.02 332.83L288.92 336.22M292.32 332.89L292.29 336.36M289.02 332.83A153.2 153.2 0 0 0 292.32 332.89M290.69 331.67L290.67 332.87M285.79 331.49A152 152 0 0 0 290.69 331.67M288.31 329.6L288.24 331.6M279.71 329.05A150 150 0 0 0 288.31 329.6M284.29 325L284.01 329.39M295.55 331.19L295.62 336.58M298.81 333.62L298.89 336.15M302.03 333.47L302.17 336.18M298.81 333.62A154 154 0 0 0 302.03 333.47M300.41 333.45L300.42 333.55M305.24 333.17L305.39 335.24M300.41 333.45A153.9 153.9 0 0 0 305.24 333.17M302.76 332.13L302.83 333.33M308.34 331.7L308.7 335.48M302.76 332.13A152.7 152.7 0 0 0 308.34 331.7M305.45 330.74L305.55 331.94M295.55 331.19A151.5 151.5 0 0 0 305.45 330.74M300.42 329.05L300.51 331.05M311.34 330.17L311.94 335.29M314.75 332.15L315.03 334.18M317.87 331.69L318.34 334.58M314.75 332.15A153.9 153.9 0 0 0 317.87 331.69M316.14 330.74L316.32 331.93M320.77 329.98L321.37 333.29M316.14 330.74A152.7 152.7 0 0 0 320.77 329.98M318.26 329.2L318.46 330.38M311.34 330.17A151.5 151.5 0 0 0 318.26 329.2M314.53 327.74L314.81 329.72M300.42 329.05A149.5 149.5 0 0 0 314.53 327.74M307.13 324.68L307.49 328.56M323.62 327.71L324.7 333.08M327 327.67L328.09 332.5M330.4 327.55L331.33 331.32M333.8 327.35L334.77 330.92M337.03 326.44L337.91 329.43M333.8 327.35A153 153 0 0 0 337.03 326.44M335.23 326.26L335.42 326.9M330.4 327.55A152.33 152.33 0 0 0 335.23 326.26M332.65 326.28L332.82 326.92M327 327.67A151.67 151.67 0 0 0 332.65 326.28M329.67 326.35L329.83 327M323.62 327.71A151 151 0 0 0 329.67 326.35M326.22 325.11L326.65 327.06M339.62 323.55L341.33 328.9M343.18 323.73L344.44 327.38M346.74 323.74L347.84 326.7M349.89 322.54L350.78 324.82M346.74 323.74A153.49 153.49 0 0 0 349.89 322.54M347.89 322.03L348.32 323.15M343.18 323.73A152.29 152.29 0 0 0 347.89 322.03M345.1 321.68L345.54 322.9M339.62 323.55A151 151 0 0 0 345.1 321.68M341.73 320.75L342.37 322.64M326.22 325.11A149 149 0 0 0 341.73 320.75M333.11 319.86L334.03 323.14M351.97 319L353.9 323.61M355.69 319.58L357.19 322.97M358.6 318.25L360.22 321.7M355.69 319.58A153 153 0 0 0 358.6 318.25M356.32 317.1L357.15 318.92M351.97 319A151 151 0 0 0 356.32 317.1M353.15 315.78L354.15 318.07M360.79 315.54L362.8 319.61M364.32 315.65L366.01 318.9M367.07 314.19L368.49 316.77M364.32 315.65A153.2 153.2 0 0 0 367.07 314.19M364.9 313.43L365.7 314.93M360.79 315.54A151.5 151.5 0 0 0 364.9 313.43M361.48 311.83L362.85 314.5M353.15 315.78A148.5 148.5 0 0 0 361.48 311.83M356.11 311.25L357.35 313.87M368.95 311.19L371.45 315.56M371.98 310.28L373.87 313.42M375.01 309.3L376.69 311.98M377.63 307.63L379.23 310.07M375.01 309.3A153 153 0 0 0 377.63 307.63M375.92 307.84L376.32 308.47M371.98 310.28A152.25 152.25 0 0 0 375.92 307.84M373.57 308.44L373.96 309.08M368.95 311.19A151.5 151.5 0 0 0 373.57 308.44M370.5 308.55L371.27 309.84M378.51 303.42L381.86 308.32M370.5 308.55A150 150 0 0 0 378.51 303.42M373.2 303.94L374.54 306.05M381.93 302.98L384.56 306.66M384.49 301.27L387.15 304.83M387.01 299.5L389.96 303.29M389.5 297.69L392.55 301.44M391.96 295.82L394.51 298.83M394.38 293.9L396.95 296.82M396.76 291.93L399.81 295.25M399.11 289.91L401.79 292.72M401.41 287.84L403.97 290.41M403.67 285.72L406.18 288.14M405.89 283.56L408.47 285.94M408.07 281.35L410.33 283.35M410.21 279.09L412.97 281.44M412.3 276.79L414.95 278.96M414.34 274.44L416.66 276.26M416.24 271.98L418.9 273.98M414.34 274.44A153.4 153.4 0 0 0 416.24 271.98M415.2 273.14L415.3 273.22M412.3 276.79A153.27 153.27 0 0 0 415.2 273.14M413.66 274.89L413.76 274.97M410.21 279.09A153.14 153.14 0 0 0 413.66 274.89M411.85 276.93L411.95 277.01M408.07 281.35A153.01 153.01 0 0 0 411.85 276.93M409.89 279.07L409.98 279.15M405.89 283.56A152.89 152.89 0 0 0 409.89 279.07M407.82 281.25L407.91 281.33M403.67 285.72A152.76 152.76 0 0 0 407.82 281.25M405.67 283.42L405.77 283.51M401.41 287.84A152.63 152.63 0 0 0 405.67 283.42M403.47 285.56L403.56 285.65M399.11 289.91A152.5 152.5 0 0 0 403.47 285.56M401.22 287.67L401.31 287.76M396.76 291.93A152.37 152.37 0 0 0 401.22 287.67M398.92 289.73L399.01 289.82M394.38 293.9A152.24 152.24 0 0 0 398.92 289.73M396.59 291.74L396.67 291.84M391.96 295.82A152.11 152.11 0 0 0 396.59 291.74M394.21 293.71L394.29 293.8M389.5 297.69A151.99 151.99 0 0 0 394.21 293.71M391.79 295.62L391.88 295.72M387.01 299.5A151.86 151.86 0 0 0 391.79 295.62M389.34 297.49L389.42 297.59M384.49 301.27A151.73 151.73 0 0 0 389.34 297.49M386.86 299.3L386.93 299.4M381.93 302.98A151.6 151.6 0 0 0 386.86 299.3M381.96 297.88L384.41 301.17M371.86 304.79A147.5 147.5 0 0 0 381.96 297.88M369.27 300.63L371.86 304.79M415.79 267.7L420.85 271.35M419.3 266.19L422.74 268.55M421.14 263.46L424.35 265.57M419.3 266.19A152.5 152.5 0 0 0 421.14 263.46M418.57 263.71L420.23 264.83M415.79 267.7A150.5 150.5 0 0 0 418.57 263.71M415.14 264.29L417.2 265.72M423.33 260.97L426.42 262.9M425.05 258.16L427.88 259.84M423.33 260.97A153 153 0 0 0 425.05 258.16M422.49 258.52L424.2 259.57M424.97 254.32L429.36 256.82M422.49 258.52A151 151 0 0 0 424.97 254.32M421.17 254.91L423.75 256.43M415.14 264.29A148 148 0 0 0 421.17 254.91M411.17 255.12L418.24 259.66M424.34 250.31L431.57 254.22M426.85 248.04L432.41 250.89M429.33 245.7L434.16 248.06M431.76 243.29L436.13 245.3M433.08 240.33L437.21 242.13M431.76 243.29A152 152 0 0 0 433.08 240.33M431.36 241.34L432.43 241.81M429.33 245.7A150.83 150.83 0 0 0 431.36 241.34M429.31 243.03L430.36 243.53M426.85 248.04A149.67 149.67 0 0 0 429.31 243.03M427.05 245.04L428.1 245.55M424.34 250.31A148.5 148.5 0 0 0 427.05 245.04M423.5 246.54L425.72 247.69M430.64 235.84L438.59 239.1M433.05 233.39L439.64 235.93M435.41 230.86L441.06 232.9M437.74 228.26L441.74 229.61M438.74 225.18L443.3 226.61M437.74 228.26A152 152 0 0 0 438.74 225.18M436.98 226.31L438.24 226.72M435.41 230.86A150.67 150.67 0 0 0 436.98 226.31M434.95 228.16L436.21 228.59M433.05 233.39A149.33 149.33 0 0 0 434.95 228.16M432.77 230.33L434.03 230.78M430.64 235.84A148 148 0 0 0 432.77 230.33M429.87 232.37L431.73 233.09M423.5 246.54A146 146 0 0 0 429.87 232.37M423.77 238.15L426.87 239.54M437.26 221.41L443.91 223.34M438.83 218.59L444.37 220.07M440.34 215.72L445.9 217.08M441.8 212.8L445.87 213.71M443.19 209.84L447.19 210.65M443.79 206.71L447.71 207.41M443.19 209.84A152.5 152.5 0 0 0 443.79 206.71M442.76 208.14L443.5 208.28M441.8 212.8A151.75 151.75 0 0 0 442.76 208.14M441.56 210.32L442.3 210.47M440.34 215.72A151 151 0 0 0 441.56 210.32M440.25 212.86L440.98 213.03M438.83 218.59A150.25 150.25 0 0 0 440.25 212.86M438.84 215.55L439.57 215.73M437.26 221.41A149.5 149.5 0 0 0 438.84 215.55M437.31 218.28L438.08 218.49M441.85 203.17L448.47 204.21M443.6 200.23L448.89 200.96M445.29 197.24L448.93 197.66M445.62 194.06L449.3 194.41M445.29 197.24A152.6 152.6 0 0 0 445.62 194.06M444.17 195.52L445.46 195.65M443.6 200.23A151.3 151.3 0 0 0 444.17 195.52M442.61 197.72L443.9 197.88M441.85 203.17A150 150 0 0 0 442.61 197.72M440.97 200.27L442.26 200.45M437.31 218.28A148.7 148.7 0 0 0 440.97 200.27M436.28 208.69L439.42 209.33M445.29 190.83L449.34 191.13M445.49 187.66L449.98 187.89M445.29 190.83A152 152 0 0 0 445.49 187.66M441.41 188.99L445.4 189.24M447.62 184.54L449.7 184.6M447.69 181.31L449.68 181.33M447.62 184.54A154 154 0 0 0 447.69 181.31M441.67 182.8L447.67 182.93M441.41 188.99A148 148 0 0 0 441.67 182.8M439.07 185.79L441.57 185.9M436.28 208.69A145.5 145.5 0 0 0 439.07 185.79M435.25 196.95L438.13 197.3M172.58 242.64A136.5 136.5 0 0 0 353.54 302.39M353.54 302.39L354.9 305.17M174.52 252.38A139.6 139.6 0 0 0 411.17 255.12M181.26 267.4A142.6 142.6 0 0 0 435.25 196.95M204.79 295A145.6 145.6 0 0 0 356.11 311.25M273.85 320.91L273.44 323.88M245.95 310.88L244.93 313.7" fill="none" stroke="#1c1c1c" stroke-width="0.7" stroke-linecap="square"/>
<g>
<circle cx="293.7" cy="179.7" r="2.55" fill="#ff0000"/>
<circle cx="397.36" cy="175.48" r="2.55" fill="#ff0000"/>
<circle cx="327.44" cy="178.84" r="2.55" fill="#ff0000"/>
<circle cx="379.91" cy="172.66" r="2.55" fill="#ff0000"/>
<circle cx="330.78" cy="176.1" r="2.55" fill="#ff0000"/>
<circle cx="364.47" cy="169.54" r="2.55" fill="#ff0000"/>
<circle cx="407.3" cy="156.24" r="2.55" fill="#ff0000"/>
<circle cx="346.25" cy="169.68" r="2.55" fill="#ff0000"/>
<circle cx="312.19" cy="176.61" r="2.55" fill="#f90021"/>
<circle cx="299.42" cy="179.15" r="2.55" fill="#ff0000"/>
<circle cx="444.65" cy="171" r="2.55" fill="#c20094"/>
<circle cx="447.29" cy="168.42" r="2.55" fill="#ff0000"/>
<circle cx="379.09" cy="158.41" r="2.55" fill="#ff0000"/>
<circle cx="330.43" cy="169.94" r="2.55" fill="#ff0000"/>
<circle cx="401.47" cy="145.72" r="2.55" fill="#ff0000"/>
<circle cx="352.54" cy="160.16" r="2.55" fill="#ff0000"/>
<circle cx="402.28" cy="135.46" r="2.55" fill="#ff0000"/>
<circle cx="371.97" cy="149.2" r="2.55" fill="#ff0000"/>
<circle cx="415.63" cy="124.13" r="2.55" fill="#ff0000"/>
<circle cx="389.93" cy="134.06" r="2.55" fill="#4b00f3"/>
<circle cx="356.4" cy="148.58" r="2.55" fill="#ff0000"/>
<circle cx="330.29" cy="163.53" r="2.55" fill="#ff0000"/>
<circle cx="315.92" cy="172.04" r="2.55" fill="#f90021"/>
<circle cx="309.96" cy="174.73" r="2.55" fill="#f90021"/>
<circle cx="295.62" cy="172.55" r="2.55" fill="#f90021"/>
<circle cx="280.78" cy="164.83" r="2.55" fill="#f90021"/>
<circle cx="314.43" cy="132.01" r="2.55" fill="#ff0000"/>
<circle cx="247.32" cy="194.23" r="2.55" fill="#ff0000"/>
<circle cx="350.44" cy="116.68" r="2.55" fill="#ff0000"/>
<circle cx="423.17" cy="103.95" r="2.55" fill="#c20094"/>
<circle cx="397.88" cy="120.86" r="2.55" fill="#ff0000"/>
<circle cx="305.01" cy="87.59" r="2.55" fill="#ed0044"/>
<circle cx="321.34" cy="76.54" r="2.55" fill="#ff0000"/>
<circle cx="350.09" cy="72.3" r="2.55" fill="#eb0049"/>
<circle cx="404.12" cy="75.22" r="2.55" fill="#4800f4"/>
<circle cx="405.47" cy="77.2" r="2.55" fill="#a600b6"/>
<circle cx="407.05" cy="79.49" r="2.55" fill="#4b00f3"/>
<circle cx="408.7" cy="81.95" r="2.55" fill="#4900f4"/>
<circle cx="410.37" cy="84.52" r="2.55" fill="#6300e9"/>
<circle cx="412.01" cy="87.15" r="2.55" fill="#ff0000"/>
<circle cx="413.6" cy="89.83" r="2.55" fill="#3f00f6"/>
<circle cx="415.14" cy="92.54" r="2.55" fill="#3d00f7"/>
<circle cx="416.24" cy="95.55" r="2.55" fill="#5900ee"/>
<circle cx="414.74" cy="98.06" r="2.55" fill="#c20094"/>
<circle cx="395.55" cy="66.18" r="2.55" fill="#fe0004"/>
<circle cx="389.72" cy="61.2" r="2.55" fill="#bb009d"/>
<circle cx="391.96" cy="64.48" r="2.55" fill="#c20094"/>
<circle cx="394.18" cy="68.27" r="2.55" fill="#be009a"/>
<circle cx="387.52" cy="65.39" r="2.55" fill="#5900ed"/>
<circle cx="384.19" cy="61.64" r="2.55" fill="#fe0005"/>
<circle cx="319.55" cy="27.72" r="2.55" fill="#b200a9"/>
<circle cx="321.82" cy="28.2" r="2.55" fill="#5d00ec"/>
<circle cx="324.47" cy="28.79" r="2.55" fill="#5e00eb"/>
<circle cx="327.29" cy="29.48" r="2.55" fill="#2800fb"/>
<circle cx="330.19" cy="30.23" r="2.55" fill="#bb009e"/>
<circle cx="333.12" cy="31.06" r="2.55" fill="#0f00fe"/>
<circle cx="336.05" cy="31.95" r="2.55" fill="#3f00f6"/>
<circle cx="338.98" cy="32.9" r="2.55" fill="#4a00f3"/>
<circle cx="341.89" cy="33.91" r="2.55" fill="#3b00f7"/>
<circle cx="344.78" cy="34.97" r="2.55" fill="#2b00fb"/>
<circle cx="347.65" cy="36.1" r="2.55" fill="#0600ff"/>
<circle cx="350.5" cy="37.29" r="2.55" fill="#4b00f3"/>
<circle cx="353.32" cy="38.53" r="2.55" fill="#4900f3"/>
<circle cx="356.11" cy="39.82" r="2.55" fill="#2200fc"/>
<circle cx="358.88" cy="41.17" r="2.55" fill="#4b00f3"/>
<circle cx="361.62" cy="42.58" r="2.55" fill="#2d00fa"/>
<circle cx="364.32" cy="44.04" r="2.55" fill="#5100f1"/>
<circle cx="367" cy="45.55" r="2.55" fill="#4b00f3"/>
<circle cx="369.64" cy="47.12" r="2.55" fill="#4f00f2"/>
<circle cx="372.25" cy="48.74" r="2.55" fill="#4200f6"/>
<circle cx="374.83" cy="50.41" r="2.55" fill="#1100fe"/>
<circle cx="376.95" cy="52.77" r="2.55" fill="#4400f5"/>
<circle cx="383.29" cy="62.52" r="2.55" fill="#ff0000"/>
<circle cx="392.21" cy="89.75" r="2.55" fill="#ff0000"/>
<circle cx="311" cy="44.4" r="2.55" fill="#ff0000"/>
<circle cx="303.17" cy="31" r="2.55" fill="#ff0000"/>
<circle cx="305.17" cy="35.66" r="2.55" fill="#ff0000"/>
<circle cx="296.79" cy="33.98" r="2.55" fill="#ff0000"/>
<circle cx="300.29" cy="48.87" r="2.55" fill="#ff0000"/>
<circle cx="287.88" cy="29.31" r="2.55" fill="#ff0000"/>
<circle cx="290.76" cy="57.89" r="2.55" fill="#ff0000"/>
<circle cx="282.19" cy="61.01" r="2.55" fill="#ff0000"/>
<circle cx="285.86" cy="84.52" r="2.55" fill="#ff0000"/>
<circle cx="281.08" cy="99.08" r="2.55" fill="#ff0000"/>
<circle cx="273.87" cy="34.04" r="2.55" fill="#ff0000"/>
<circle cx="264.45" cy="30.29" r="2.55" fill="#c20094"/>
<circle cx="267.37" cy="34.06" r="2.55" fill="#ff0000"/>
<circle cx="274.46" cy="58.21" r="2.55" fill="#ff0000"/>
<circle cx="271.95" cy="89.79" r="2.55" fill="#ff0000"/>
<circle cx="268.75" cy="74.11" r="2.55" fill="#ff0000"/>
<circle cx="261.03" cy="81.49" r="2.55" fill="#ff0000"/>
<circle cx="250.3" cy="37.16" r="2.55" fill="#ff0000"/>
<circle cx="255.84" cy="47.52" r="2.55" fill="#ff0000"/>
<circle cx="241.37" cy="40.73" r="2.55" fill="#ff0000"/>
<circle cx="245.62" cy="45.56" r="2.55" fill="#ff0000"/>
<circle cx="231.81" cy="42.52" r="2.55" fill="#ff0000"/>
<circle cx="236.58" cy="47.51" r="2.55" fill="#ff0000"/>
<circle cx="244.67" cy="55.53" r="2.55" fill="#ff0000"/>
<circle cx="256.14" cy="69.16" r="2.55" fill="#ff0000"/>
<circle cx="248.95" cy="75.29" r="2.55" fill="#ff0000"/>
<circle cx="233.78" cy="60.57" r="2.55" fill="#ff0000"/>
<circle cx="221.16" cy="73.76" r="2.55" fill="#ff0000"/>
<circle cx="217.91" cy="50.26" r="2.55" fill="#c20094"/>
<circle cx="221.64" cy="51.98" r="2.55" fill="#ff0000"/>
<circle cx="213.39" cy="55.09" r="2.55" fill="#c20094"/>
<circle cx="203.34" cy="57.47" r="2.55" fill="#c20094"/>
<circle cx="207.2" cy="58.69" r="2.55" fill="#c20094"/>
<circle cx="211.88" cy="59.2" r="2.55" fill="#ff0000"/>
<circle cx="219.37" cy="59.85" r="2.55" fill="#ff0000"/>
<circle cx="196.56" cy="63.77" r="2.55" fill="#ba009f"/>
<circle cx="200.33" cy="64.87" r="2.55" fill="#ff0000"/>
<circle cx="201.64" cy="71.48" r="2.55" fill="#ff0000"/>
<circle cx="182.63" cy="75.2" r="2.55" fill="#4c00f2"/>
<circle cx="184.91" cy="74.27" r="2.55" fill="#b700a2"/>
<circle cx="187.45" cy="73.11" r="2.55" fill="#ba009f"/>
<circle cx="190.48" cy="72.25" r="2.55" fill="#4500f5"/>
<circle cx="174.83" cy="84.36" r="2.55" fill="#5300f0"/>
<circle cx="177.22" cy="83.41" r="2.55" fill="#bd009b"/>
<circle cx="180.32" cy="82.63" r="2.55" fill="#3700f8"/>
<circle cx="189.35" cy="81.16" r="2.55" fill="#ff0000"/>
<circle cx="170.57" cy="92.72" r="2.55" fill="#ff0000"/>
<circle cx="174.36" cy="92.6" r="2.55" fill="#ff0000"/>
<circle cx="164.51" cy="99.92" r="2.55" fill="#6e00e3"/>
<circle cx="167.02" cy="98.74" r="2.55" fill="#fe0007"/>
<circle cx="166.56" cy="102.54" r="2.55" fill="#6d00e4"/>
<circle cx="166.39" cy="106.2" r="2.55" fill="#ff0000"/>
<circle cx="173.65" cy="101.56" r="2.55" fill="#ff0000"/>
<circle cx="157.99" cy="115.83" r="2.55" fill="#ff0001"/>
<circle cx="161.12" cy="113.93" r="2.55" fill="#fd0010"/>
<circle cx="156.03" cy="123.37" r="2.55" fill="#c20094"/>
<circle cx="162.25" cy="120.29" r="2.55" fill="#c20094"/>
<circle cx="146.63" cy="139.83" r="2.55" fill="#5400ef"/>
<circle cx="147.7" cy="137.68" r="2.55" fill="#9e00bf"/>
<circle cx="148.91" cy="135.19" r="2.55" fill="#aa00b3"/>
<circle cx="150.23" cy="132.54" r="2.55" fill="#4000f6"/>
<circle cx="152.02" cy="129.98" r="2.55" fill="#5a00ed"/>
<circle cx="143.16" cy="155.14" r="2.55" fill="#4800f4"/>
<circle cx="144.08" cy="152.91" r="2.55" fill="#5400ef"/>
<circle cx="145.11" cy="150.32" r="2.55" fill="#4100f6"/>
<circle cx="146.8" cy="147.69" r="2.55" fill="#2a00fb"/>
<circle cx="153.08" cy="139.87" r="2.55" fill="#c20094"/>
<circle cx="145.36" cy="163.28" r="2.55" fill="#ff0000"/>
<circle cx="143.96" cy="170.9" r="2.55" fill="#ff0000"/>
<circle cx="148.24" cy="167.38" r="2.55" fill="#ff0000"/>
<circle cx="142.1" cy="177.05" r="2.55" fill="#ff0004"/>
<circle cx="143.95" cy="179.39" r="2.55" fill="#6f00e3"/>
<circle cx="142.76" cy="189.51" r="2.55" fill="#c10095"/>
<circle cx="144.38" cy="187.09" r="2.55" fill="#c30092"/>
<circle cx="147.13" cy="183.18" r="2.55" fill="#c20094"/>
<circle cx="144.06" cy="195.73" r="2.55" fill="#ba009f"/>
<circle cx="143.98" cy="205.45" r="2.55" fill="#fe000a"/>
<circle cx="145.48" cy="202.77" r="2.55" fill="#c20093"/>
<circle cx="147.77" cy="198.86" r="2.55" fill="#ff0000"/>
<circle cx="207.44" cy="71.26" r="2.55" fill="#ff0000"/>
<circle cx="188.61" cy="87.38" r="2.55" fill="#ed0044"/>
<circle cx="179.21" cy="98.04" r="2.55" fill="#ed0044"/>
<circle cx="167.3" cy="115.57" r="2.55" fill="#c20094"/>
<circle cx="159.39" cy="131.61" r="2.55" fill="#c20094"/>
<circle cx="153.99" cy="146.93" r="2.55" fill="#ca0088"/>
<circle cx="149.49" cy="168.6" r="2.55" fill="#c20094"/>
<circle cx="148.49" cy="179.95" r="2.55" fill="#d70072"/>
<circle cx="214.56" cy="214.61" r="2.55" fill="#ff0000"/>
<circle cx="201.56" cy="243.02" r="2.55" fill="#ff0000"/>
<circle cx="148" cy="221.6" r="2.55" fill="#ff0000"/>
<circle cx="148.8" cy="218.49" r="2.55" fill="#ff0000"/>
<circle cx="150.07" cy="228.28" r="2.55" fill="#ff0000"/>
<circle cx="152.29" cy="229.72" r="2.55" fill="#c20093"/>
<circle cx="152.82" cy="223.4" r="2.55" fill="#ff0000"/>
<circle cx="154.79" cy="237.61" r="2.55" fill="#fc0015"/>
<circle cx="159.43" cy="241.35" r="2.55" fill="#ff0000"/>
<circle cx="167.95" cy="223" r="2.55" fill="#ff0000"/>
<circle cx="211.43" cy="278.8" r="2.55" fill="#ff0000"/>
<circle cx="161.81" cy="253.23" r="2.55" fill="#c20094"/>
<circle cx="164.63" cy="254.15" r="2.55" fill="#ff0000"/>
<circle cx="167.53" cy="263.57" r="2.55" fill="#c20094"/>
<circle cx="168.21" cy="260.5" r="2.55" fill="#ed0044"/>
<circle cx="170.93" cy="254.57" r="2.55" fill="#ff0000"/>
<circle cx="173.86" cy="269.92" r="2.55" fill="#c20094"/>
<circle cx="174.25" cy="266.91" r="2.55" fill="#c20094"/>
<circle cx="192.56" cy="292.69" r="2.55" fill="#bb009d"/>
<circle cx="191.12" cy="290.96" r="2.55" fill="#5d00ec"/>
<circle cx="189.45" cy="288.97" r="2.55" fill="#3800f8"/>
<circle cx="187.69" cy="286.82" r="2.55" fill="#4e00f2"/>
<circle cx="185.91" cy="284.57" r="2.55" fill="#3000fa"/>
<circle cx="184.14" cy="282.27" r="2.55" fill="#bb009d"/>
<circle cx="182.4" cy="279.92" r="2.55" fill="#3500f9"/>
<circle cx="180.71" cy="277.53" r="2.55" fill="#5f00eb"/>
<circle cx="179.9" cy="274.41" r="2.55" fill="#5a00ed"/>
<circle cx="179.6" cy="268.69" r="2.55" fill="#c20094"/>
<circle cx="199.59" cy="298.11" r="2.55" fill="#ff0000"/>
<circle cx="198.98" cy="295.36" r="2.55" fill="#ff0000"/>
<circle cx="206.55" cy="303.62" r="2.55" fill="#ff0000"/>
<circle cx="205.91" cy="300.71" r="2.55" fill="#ff0000"/>
<circle cx="203.9" cy="296.15" r="2.55" fill="#ff0000"/>
<circle cx="212.04" cy="306.42" r="2.55" fill="#ff0000"/>
<circle cx="217.29" cy="309.94" r="2.55" fill="#c20094"/>
<circle cx="216.39" cy="305.37" r="2.55" fill="#ff0000"/>
<circle cx="245.86" cy="324.26" r="2.55" fill="#4a00f3"/>
<circle cx="243.66" cy="323.24" r="2.55" fill="#5900ee"/>
<circle cx="241.11" cy="322.05" r="2.55" fill="#5f00eb"/>
<circle cx="238.4" cy="320.74" r="2.55" fill="#3500f9"/>
<circle cx="235.62" cy="319.35" r="2.55" fill="#3400f9"/>
<circle cx="232.83" cy="317.87" r="2.55" fill="#3d00f7"/>
<circle cx="230.06" cy="316.33" r="2.55" fill="#5000f1"/>
<circle cx="227.43" cy="314.49" r="2.55" fill="#5500ef"/>
<circle cx="225.76" cy="310.85" r="2.55" fill="#c20094"/>
<circle cx="252.79" cy="324.27" r="2.55" fill="#ff0000"/>
<circle cx="256.01" cy="322.1" r="2.55" fill="#c20094"/>
<circle cx="265.28" cy="329.27" r="2.55" fill="#c20094"/>
<circle cx="263.28" cy="326.94" r="2.55" fill="#ff0000"/>
<circle cx="271.91" cy="328.71" r="2.55" fill="#ba009f"/>
<circle cx="268.11" cy="324.86" r="2.55" fill="#ba009f"/>
<circle cx="279.62" cy="330.04" r="2.55" fill="#c7008d"/>
<circle cx="290.68" cy="332.27" r="2.55" fill="#c7008c"/>
<circle cx="288.28" cy="330.6" r="2.55" fill="#5a00ed"/>
<circle cx="284.15" cy="327.19" r="2.55" fill="#ff0000"/>
<circle cx="300.42" cy="333.5" r="2.55" fill="#fd000e"/>
<circle cx="302.79" cy="332.73" r="2.55" fill="#fc0014"/>
<circle cx="305.5" cy="331.34" r="2.55" fill="#fd000e"/>
<circle cx="300.46" cy="330.05" r="2.55" fill="#fe0005"/>
<circle cx="316.23" cy="331.34" r="2.55" fill="#bf0099"/>
<circle cx="318.36" cy="329.79" r="2.55" fill="#ff0000"/>
<circle cx="314.67" cy="328.73" r="2.55" fill="#4f00f1"/>
<circle cx="307.31" cy="326.62" r="2.55" fill="#c20094"/>
<circle cx="335.33" cy="326.58" r="2.55" fill="#3300f9"/>
<circle cx="332.73" cy="326.6" r="2.55" fill="#5100f1"/>
<circle cx="329.75" cy="326.68" r="2.55" fill="#6100ea"/>
<circle cx="326.43" cy="326.08" r="2.55" fill="#4d00f2"/>
<circle cx="348.1" cy="322.59" r="2.55" fill="#fe0005"/>
<circle cx="345.32" cy="322.29" r="2.55" fill="#fc0014"/>
<circle cx="342.05" cy="321.69" r="2.55" fill="#b800a1"/>
<circle cx="333.57" cy="321.5" r="2.55" fill="#4b00f3"/>
<circle cx="356.73" cy="318.01" r="2.55" fill="#c20094"/>
<circle cx="353.65" cy="316.93" r="2.55" fill="#ff0000"/>
<circle cx="365.3" cy="314.18" r="2.55" fill="#ff0000"/>
<circle cx="362.17" cy="313.16" r="2.55" fill="#c20094"/>
<circle cx="356.73" cy="312.56" r="2.55" fill="#ff0000"/>
<circle cx="376.12" cy="308.16" r="2.55" fill="#fc0015"/>
<circle cx="373.76" cy="308.76" r="2.55" fill="#bd009b"/>
<circle cx="370.89" cy="309.19" r="2.55" fill="#fe0007"/>
<circle cx="373.87" cy="305" r="2.55" fill="#ff0000"/>
<circle cx="415.25" cy="273.18" r="2.55" fill="#4300f5"/>
<circle cx="413.71" cy="274.93" r="2.55" fill="#4600f4"/>
<circle cx="411.9" cy="276.97" r="2.55" fill="#5300f0"/>
<circle cx="409.94" cy="279.11" r="2.55" fill="#4300f5"/>
<circle cx="407.86" cy="281.29" r="2.55" fill="#5b00ed"/>
<circle cx="405.72" cy="283.46" r="2.55" fill="#3d00f7"/>
<circle cx="403.52" cy="285.61" r="2.55" fill="#4a00f3"/>
<circle cx="401.26" cy="287.71" r="2.55" fill="#3f00f6"/>
<circle cx="398.97" cy="289.77" r="2.55" fill="#5d00ec"/>
<circle cx="396.63" cy="291.79" r="2.55" fill="#5100f1"/>
<circle cx="394.25" cy="293.76" r="2.55" fill="#5600ef"/>
<circle cx="391.84" cy="295.67" r="2.55" fill="#3d00f7"/>
<circle cx="389.38" cy="297.54" r="2.55" fill="#6100ea"/>
<circle cx="386.89" cy="299.35" r="2.55" fill="#5300f0"/>
<circle cx="383.18" cy="299.52" r="2.55" fill="#5500ef"/>
<circle cx="370.56" cy="302.71" r="2.55" fill="#4b00f3"/>
<circle cx="419.4" cy="264.27" r="2.55" fill="#ff0000"/>
<circle cx="416.17" cy="265" r="2.55" fill="#ff0000"/>
<circle cx="423.35" cy="259.04" r="2.55" fill="#c20094"/>
<circle cx="422.46" cy="255.67" r="2.55" fill="#c20094"/>
<circle cx="414.71" cy="257.39" r="2.55" fill="#ff0000"/>
<circle cx="431.9" cy="241.58" r="2.55" fill="#5c00ec"/>
<circle cx="429.83" cy="243.28" r="2.55" fill="#3d00f7"/>
<circle cx="427.58" cy="245.29" r="2.55" fill="#be0099"/>
<circle cx="424.61" cy="247.11" r="2.55" fill="#5400f0"/>
<circle cx="437.61" cy="226.51" r="2.55" fill="#4900f3"/>
<circle cx="435.58" cy="228.37" r="2.55" fill="#ba009f"/>
<circle cx="433.4" cy="230.55" r="2.55" fill="#bb009e"/>
<circle cx="430.8" cy="232.73" r="2.55" fill="#4900f3"/>
<circle cx="425.32" cy="238.84" r="2.55" fill="#c20094"/>
<circle cx="443.13" cy="208.21" r="2.55" fill="#bc009d"/>
<circle cx="441.93" cy="210.4" r="2.55" fill="#bf0098"/>
<circle cx="440.61" cy="212.94" r="2.55" fill="#b900a1"/>
<circle cx="439.2" cy="215.64" r="2.55" fill="#5f00eb"/>
<circle cx="437.69" cy="218.38" r="2.55" fill="#3d00f7"/>
<circle cx="444.82" cy="195.58" r="2.55" fill="#6300e9"/>
<circle cx="443.26" cy="197.8" r="2.55" fill="#3800f8"/>
<circle cx="441.61" cy="200.36" r="2.55" fill="#bd009b"/>
<circle cx="437.85" cy="209.01" r="2.55" fill="#c20094"/>
<circle cx="443.4" cy="189.12" r="2.55" fill="#ff0000"/>
<circle cx="444.67" cy="182.86" r="2.55" fill="#c20094"/>
<circle cx="440.32" cy="185.85" r="2.55" fill="#ff0000"/>
<circle cx="436.69" cy="197.12" r="2.55" fill="#ff0000"/>
<circle cx="316.28" cy="316.09" r="2.55" fill="#ff0000"/>
<circle cx="300.21" cy="323.15" r="2.55" fill="#6800e7"/>
<circle cx="321.77" cy="324.1" r="2.55" fill="#6800e7"/>
<circle cx="196.57" cy="282.05" r="2.55" fill="#9a00c3"/>
</g>
</svg></body></html>
